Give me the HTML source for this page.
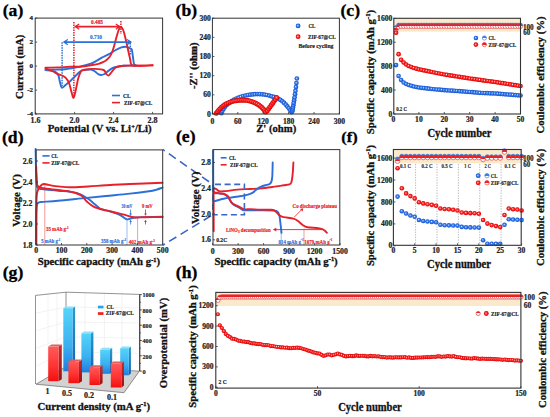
<!DOCTYPE html>
<html><head><meta charset="utf-8"><style>
html,body{margin:0;padding:0;background:#fff;}
svg{display:block;font-family:"Liberation Serif",serif;font-weight:bold;}
</style></head><body>
<svg width="550" height="417" viewBox="0 0 550 417">
<defs>
<radialGradient id="gb" cx="0.5" cy="0.5" r="0.5" fx="0.42" fy="0.42"><stop offset="0" stop-color="#eef4ff"/><stop offset="0.3" stop-color="#5a94f2"/><stop offset="0.7" stop-color="#1e66e0"/><stop offset="1" stop-color="#1552c8"/></radialGradient>
<radialGradient id="gr" cx="0.5" cy="0.5" r="0.5" fx="0.42" fy="0.42"><stop offset="0" stop-color="#fff0f0"/><stop offset="0.3" stop-color="#ff5050"/><stop offset="0.7" stop-color="#f21010"/><stop offset="1" stop-color="#d40000"/></radialGradient>
<linearGradient id="hb" x1="0" y1="0" x2="0" y2="1"><stop offset="0.5" stop-color="#3b7fe8"/><stop offset="0.5" stop-color="#fff"/></linearGradient>
<linearGradient id="hr" x1="0" y1="0" x2="0" y2="1"><stop offset="0.5" stop-color="#f02020"/><stop offset="0.5" stop-color="#fff"/></linearGradient>
<linearGradient id="barb" x1="0" y1="0" x2="0" y2="1"><stop offset="0" stop-color="#55d4fa"/><stop offset="0.6" stop-color="#3ab0f0"/><stop offset="1" stop-color="#1f7ee0"/></linearGradient>
<linearGradient id="barbs" x1="0" y1="0" x2="0" y2="1"><stop offset="0" stop-color="#2a9ad0"/><stop offset="1" stop-color="#1560b0"/></linearGradient>
<linearGradient id="barr" x1="0" y1="0" x2="0" y2="1"><stop offset="0" stop-color="#ff5a5a"/><stop offset="0.6" stop-color="#ff3030"/><stop offset="1" stop-color="#f01010"/></linearGradient>
<linearGradient id="barrs" x1="0" y1="0" x2="0" y2="1"><stop offset="0" stop-color="#c03030"/><stop offset="1" stop-color="#a01010"/></linearGradient>
</defs>

<text x="13.05" y="16.4" textLength="20.57" lengthAdjust="spacingAndGlyphs" font-size="16.8" text-anchor="middle" fill="#000" stroke="#000" stroke-width="0.3">(a)</text>
<text x="186.4" y="15.5" textLength="21.56" lengthAdjust="spacingAndGlyphs" font-size="16.8" text-anchor="middle" fill="#000" stroke="#000" stroke-width="0.3">(b)</text>
<text x="350.25" y="15.5" textLength="19.58" lengthAdjust="spacingAndGlyphs" font-size="16.8" text-anchor="middle" fill="#000" stroke="#000" stroke-width="0.3">(c)</text>
<text x="12.75" y="143.2" textLength="21.56" lengthAdjust="spacingAndGlyphs" font-size="16.8" text-anchor="middle" fill="#000" stroke="#000" stroke-width="0.3">(d)</text>
<text x="185.8" y="141.7" textLength="19.58" lengthAdjust="spacingAndGlyphs" font-size="16.8" text-anchor="middle" fill="#000" stroke="#000" stroke-width="0.3">(e)</text>
<text x="349.5" y="141.6" textLength="16.38" lengthAdjust="spacingAndGlyphs" font-size="15.6" text-anchor="middle" fill="#000" stroke="#000" stroke-width="0.3">(f)</text>
<text x="13.05" y="278.4" textLength="20.57" lengthAdjust="spacingAndGlyphs" font-size="16.8" text-anchor="middle" fill="#000" stroke="#000" stroke-width="0.3">(g)</text>
<text x="186.55" y="278.1" textLength="21.56" lengthAdjust="spacingAndGlyphs" font-size="16.8" text-anchor="middle" fill="#000" stroke="#000" stroke-width="0.3">(h)</text>
<path d="M45.5,70 C47.08,69.93 51.75,69.73 55,69.6 C58.25,69.47 62.17,69.43 65,69.2 C67.83,68.97 69.5,68.63 72,68.2 C74.5,67.77 76.85,67.37 80,66.6 C83.15,65.83 88.17,64.55 90.9,63.6 C93.63,62.65 94.58,61.9 96.4,60.9 C98.22,59.9 99.8,58.68 101.8,57.6 C103.8,56.52 106.22,55.58 108.4,54.4 C110.58,53.22 112.73,51.68 114.9,50.5 C117.07,49.32 119.58,47.93 121.4,47.3 C123.22,46.67 124.62,46.65 125.8,46.7 C126.98,46.75 127.72,47.3 128.5,47.6 C129.28,47.9 129.95,48.18 130.5,48.5 C131.05,48.82 131.4,48.17 131.8,49.5 C132.2,50.83 132.53,54.08 132.9,56.5 C133.27,58.92 133.55,62.53 134,64 C134.45,65.47 135.33,65.08 135.6,65.3" fill="none" stroke="#2b6fd9" stroke-width="1.9" stroke-linejoin="round" stroke-linecap="round"/>
<path d="M135.6,65.3 C133.6,65.38 127.42,65.35 123.6,65.8 C119.78,66.25 115.42,67 112.7,68 C109.98,69 108.67,70.8 107.3,71.8 C105.93,72.8 105.55,73.47 104.5,74 C103.45,74.53 102.05,74.98 101,75 C99.95,75.02 99.2,74.68 98.2,74.1 C97.2,73.52 96.2,72.27 95,71.5 C93.8,70.73 92.67,69.75 91,69.5 C89.33,69.25 86.68,69.75 85,70 C83.32,70.25 82.33,70.17 80.9,71 C79.47,71.83 78.07,73.42 76.4,75 C74.73,76.58 72.72,78.83 70.9,80.5 C69.08,82.17 67.02,83.8 65.5,85 C63.98,86.2 62.72,88.15 61.8,87.7 C60.88,87.25 60.6,84.42 60,82.3 C59.4,80.18 59.12,76.82 58.2,75 C57.28,73.18 56.62,72.23 54.5,71.4 C52.38,70.57 47,70.23 45.5,70" fill="none" stroke="#2b6fd9" stroke-width="1.9" stroke-linejoin="round" stroke-linecap="round"/>
<path d="M45.5,67.7 C47.62,67.65 54.12,67.55 58.2,67.4 C62.28,67.25 66.37,66.92 70,66.8 C73.63,66.68 76.52,66.95 80,66.7 C83.48,66.45 87.82,65.78 90.9,65.3 C93.98,64.82 96.48,64.32 98.5,63.8 C100.52,63.28 101.67,62.83 103,62.2 C104.33,61.57 105.42,60.87 106.5,60 C107.58,59.13 108.58,58.25 109.5,57 C110.42,55.75 111.23,54.33 112,52.5 C112.77,50.67 113.35,48.58 114.1,46 C114.85,43.42 115.77,39.58 116.5,37 C117.23,34.42 117.87,32.13 118.5,30.5 C119.13,28.87 119.72,27.65 120.3,27.2 C120.88,26.75 121.43,27.08 122,27.8 C122.57,28.52 123,29.23 123.7,31.5 C124.4,33.77 125.4,37.98 126.2,41.4 C127,44.82 127.87,49.15 128.5,52 C129.13,54.85 129.6,56.58 130,58.5 C130.4,60.42 130.52,62.35 130.9,63.5 C131.28,64.65 130.78,65.03 132.3,65.4 C133.82,65.77 136.62,65.72 140,65.7 C143.38,65.68 150.5,65.37 152.6,65.3" fill="none" stroke="#e8202a" stroke-width="1.9" stroke-linejoin="round" stroke-linecap="round"/>
<path d="M152.6,65.3 C150.5,65.37 144.83,65.62 140,65.7 C135.17,65.78 127.6,65.52 123.6,65.8 C119.6,66.08 117.82,66.58 116,67.4 C114.18,68.22 113.62,69.68 112.7,70.7 C111.78,71.72 111.23,72.68 110.5,73.5 C109.77,74.32 109.05,75.6 108.3,75.6 C107.55,75.6 106.78,74.43 106,73.5 C105.22,72.57 105.43,70.77 103.6,70 C101.77,69.23 97.6,69.03 95,68.9 C92.4,68.77 89.9,69.02 88,69.2 C86.1,69.38 84.78,69.63 83.6,70 C82.42,70.37 81.8,69.97 80.9,71.4 C80,72.83 79.02,75.67 78.2,78.6 C77.38,81.53 76.77,85.82 76,89 C75.23,92.18 74.35,97.2 73.6,97.7 C72.85,98.2 72.27,94.45 71.5,92 C70.73,89.55 70,85.38 69,83 C68,80.62 66.67,78.95 65.5,77.7 C64.33,76.45 63.25,76.12 62,75.5 C60.75,74.88 59.67,74.75 58,74 C56.33,73.25 54.08,71.97 52,71 C49.92,70.03 46.58,68.67 45.5,68.2" fill="none" stroke="#e8202a" stroke-width="1.9" stroke-linejoin="round" stroke-linecap="round"/>
<line x1="73.9" y1="22.1" x2="73.9" y2="97" stroke="#e8202a" stroke-width="1.5" stroke-dasharray="1.5 1"/>
<line x1="120.9" y1="21" x2="120.9" y2="34" stroke="#e8202a" stroke-width="1.5" stroke-dasharray="1.5 1"/>
<line x1="62.1" y1="42.3" x2="62.1" y2="86" stroke="#2b6fd9" stroke-width="1.5" stroke-dasharray="1.5 1"/>
<line x1="130.3" y1="43" x2="130.3" y2="55" stroke="#2b6fd9" stroke-width="1.5" stroke-dasharray="1.5 1"/>
<line x1="75.7" y1="26.6" x2="119.3" y2="26.6" stroke="#e8202a" stroke-width="1.6"/>
<path d="M115.8,24 L119.8,26.6 L115.8,29.2" fill="none" stroke="#e8202a" stroke-width="1.2"/>
<path d="M119.8,26.6 L117,25.17 L117,28.03 Z" fill="#e8202a"/>
<path d="M79.2,24 L75.2,26.6 L79.2,29.2" fill="none" stroke="#e8202a" stroke-width="1.2"/>
<path d="M75.2,26.6 L78,25.17 L78,28.03 Z" fill="#e8202a"/>
<line x1="64.3" y1="42.1" x2="130.5" y2="42.1" stroke="#2b6fd9" stroke-width="1.6"/>
<path d="M127,39.5 L131,42.1 L127,44.7" fill="none" stroke="#2b6fd9" stroke-width="1.2"/>
<path d="M131,42.1 L128.2,40.67 L128.2,43.53 Z" fill="#2b6fd9"/>
<path d="M67.8,39.5 L63.8,42.1 L67.8,44.7" fill="none" stroke="#2b6fd9" stroke-width="1.2"/>
<path d="M63.8,42.1 L66.6,40.67 L66.6,43.53 Z" fill="#2b6fd9"/>
<text x="97" y="24.4" font-size="5.6" fill="#e8202a" text-anchor="middle" stroke="#e8202a" stroke-width="0.18" textLength="12" lengthAdjust="spacingAndGlyphs">0.485</text>
<text x="96" y="39" font-size="5.6" fill="#2b6fd9" text-anchor="middle" stroke="#2b6fd9" stroke-width="0.18" textLength="12" lengthAdjust="spacingAndGlyphs">0.710</text>
<line x1="112" y1="95.5" x2="120" y2="95.5" stroke="#2b6fd9" stroke-width="1.6"/>
<text x="123" y="97.54" font-size="6" fill="#222" text-anchor="start" stroke="#222" stroke-width="0.18" textLength="7.5" lengthAdjust="spacingAndGlyphs">CL</text>
<line x1="112" y1="102.6" x2="120" y2="102.6" stroke="#e8202a" stroke-width="1.6"/>
<text x="124" y="104.64" font-size="6" fill="#222" text-anchor="start" stroke="#222" stroke-width="0.18" textLength="28.3" lengthAdjust="spacingAndGlyphs">ZIF-67@CL</text>
<rect x="35.2" y="18.1" width="127.4" height="95.8" fill="none" stroke="#333" stroke-width="1"/>
<text x="33" y="20.48" font-size="7" fill="#222" text-anchor="end" stroke="#222" stroke-width="0.22">4</text>
<line x1="35.2" y1="18.1" x2="37.2" y2="18.1" stroke="#333" stroke-width="0.8"/>
<text x="33" y="44.48" font-size="7" fill="#222" text-anchor="end" stroke="#222" stroke-width="0.22">2</text>
<line x1="35.2" y1="42.1" x2="37.2" y2="42.1" stroke="#333" stroke-width="0.8"/>
<text x="33" y="68.48" font-size="7" fill="#222" text-anchor="end" stroke="#222" stroke-width="0.22">0</text>
<line x1="35.2" y1="66.1" x2="37.2" y2="66.1" stroke="#333" stroke-width="0.8"/>
<text x="33" y="92.48" font-size="7" fill="#222" text-anchor="end" stroke="#222" stroke-width="0.22">-2</text>
<line x1="35.2" y1="90.1" x2="37.2" y2="90.1" stroke="#333" stroke-width="0.8"/>
<text x="33" y="116.48" font-size="7" fill="#222" text-anchor="end" stroke="#222" stroke-width="0.22">-4</text>
<line x1="35.2" y1="114.1" x2="37.2" y2="114.1" stroke="#333" stroke-width="0.8"/>
<text x="35.6" y="122.98" font-size="7.6" fill="#222" text-anchor="middle" stroke="#222" stroke-width="0.22" textLength="10" lengthAdjust="spacingAndGlyphs">1.6</text>
<line x1="35.6" y1="113.9" x2="35.6" y2="111.9" stroke="#333" stroke-width="0.8"/>
<text x="74.6" y="122.98" font-size="7.6" fill="#222" text-anchor="middle" stroke="#222" stroke-width="0.22" textLength="10" lengthAdjust="spacingAndGlyphs">2.0</text>
<line x1="74.6" y1="113.9" x2="74.6" y2="111.9" stroke="#333" stroke-width="0.8"/>
<text x="113.6" y="122.98" font-size="7.6" fill="#222" text-anchor="middle" stroke="#222" stroke-width="0.22" textLength="10" lengthAdjust="spacingAndGlyphs">2.4</text>
<line x1="113.6" y1="113.9" x2="113.6" y2="111.9" stroke="#333" stroke-width="0.8"/>
<text x="152.6" y="122.98" font-size="7.6" fill="#222" text-anchor="middle" stroke="#222" stroke-width="0.22" textLength="10" lengthAdjust="spacingAndGlyphs">2.8</text>
<line x1="152.6" y1="113.9" x2="152.6" y2="111.9" stroke="#333" stroke-width="0.8"/>
<text x="22.9" y="66.75" font-size="10.3" fill="#111" text-anchor="middle" stroke="#111" stroke-width="0.3" textLength="64.3" lengthAdjust="spacingAndGlyphs" transform="rotate(-90 22.9 66.75)">Current (mA)</text>
<text x="47.7" y="132.2" font-size="10.8" fill="#111" text-anchor="start" stroke="#111" stroke-width="0.3" textLength="104" lengthAdjust="spacingAndGlyphs">Potential (V vs. Li<tspan dy="-3.5" font-size="6.5">+</tspan><tspan dy="3.5">/Li)</tspan></text>
<circle cx="221.3" cy="113.2" r="2.35" fill="url(#gb)"/>
<circle cx="222.35" cy="111.04" r="2.35" fill="url(#gb)"/>
<circle cx="223.53" cy="108.95" r="2.35" fill="url(#gb)"/>
<circle cx="224.87" cy="106.96" r="2.35" fill="url(#gb)"/>
<circle cx="226.48" cy="105.18" r="2.35" fill="url(#gb)"/>
<circle cx="228.26" cy="103.58" r="2.35" fill="url(#gb)"/>
<circle cx="230.17" cy="102.13" r="2.35" fill="url(#gb)"/>
<circle cx="232.17" cy="100.8" r="2.35" fill="url(#gb)"/>
<circle cx="234.25" cy="99.61" r="2.35" fill="url(#gb)"/>
<circle cx="236.41" cy="98.55" r="2.35" fill="url(#gb)"/>
<circle cx="238.63" cy="97.65" r="2.35" fill="url(#gb)"/>
<circle cx="240.89" cy="96.84" r="2.35" fill="url(#gb)"/>
<circle cx="243.16" cy="96.06" r="2.35" fill="url(#gb)"/>
<circle cx="245.49" cy="95.5" r="2.35" fill="url(#gb)"/>
<circle cx="247.85" cy="95.07" r="2.35" fill="url(#gb)"/>
<circle cx="250.23" cy="94.72" r="2.35" fill="url(#gb)"/>
<circle cx="252.61" cy="94.44" r="2.35" fill="url(#gb)"/>
<circle cx="255" cy="94.22" r="2.35" fill="url(#gb)"/>
<circle cx="257.4" cy="94.1" r="2.35" fill="url(#gb)"/>
<circle cx="259.8" cy="94.13" r="2.35" fill="url(#gb)"/>
<circle cx="262.19" cy="94.29" r="2.35" fill="url(#gb)"/>
<circle cx="264.57" cy="94.57" r="2.35" fill="url(#gb)"/>
<circle cx="266.94" cy="94.99" r="2.35" fill="url(#gb)"/>
<circle cx="269.26" cy="95.6" r="2.35" fill="url(#gb)"/>
<circle cx="271.55" cy="96.31" r="2.35" fill="url(#gb)"/>
<circle cx="273.86" cy="96.97" r="2.35" fill="url(#gb)"/>
<circle cx="276.13" cy="97.73" r="2.35" fill="url(#gb)"/>
<circle cx="278.3" cy="98.75" r="2.35" fill="url(#gb)"/>
<circle cx="280.38" cy="99.95" r="2.35" fill="url(#gb)"/>
<circle cx="282.36" cy="101.31" r="2.35" fill="url(#gb)"/>
<circle cx="284.16" cy="102.89" r="2.35" fill="url(#gb)"/>
<circle cx="285.81" cy="104.64" r="2.35" fill="url(#gb)"/>
<circle cx="287.38" cy="106.45" r="2.35" fill="url(#gb)"/>
<circle cx="288.83" cy="108.36" r="2.35" fill="url(#gb)"/>
<circle cx="290.23" cy="110.31" r="2.35" fill="url(#gb)"/>
<circle cx="291.62" cy="112.27" r="2.35" fill="url(#gb)"/>
<circle cx="292.3" cy="111.2" r="2.35" fill="url(#gb)"/>
<circle cx="292.63" cy="109.4" r="2.35" fill="url(#gb)"/>
<circle cx="292.99" cy="107.4" r="2.35" fill="url(#gb)"/>
<circle cx="293.36" cy="105.2" r="2.35" fill="url(#gb)"/>
<circle cx="293.76" cy="102.8" r="2.35" fill="url(#gb)"/>
<circle cx="294.17" cy="100.2" r="2.35" fill="url(#gb)"/>
<circle cx="294.61" cy="97.3" r="2.35" fill="url(#gb)"/>
<circle cx="295.05" cy="94.2" r="2.35" fill="url(#gb)"/>
<circle cx="295.5" cy="90.8" r="2.35" fill="url(#gb)"/>
<circle cx="295.97" cy="87" r="2.35" fill="url(#gb)"/>
<circle cx="296.42" cy="83" r="2.35" fill="url(#gb)"/>
<circle cx="296.87" cy="78.5" r="2.35" fill="url(#gb)"/>
<circle cx="216.2" cy="113.3" r="2.5" fill="url(#gr)"/>
<circle cx="217.49" cy="111.77" r="2.5" fill="url(#gr)"/>
<circle cx="218.71" cy="110.19" r="2.5" fill="url(#gr)"/>
<circle cx="220.04" cy="108.69" r="2.5" fill="url(#gr)"/>
<circle cx="221.45" cy="107.28" r="2.5" fill="url(#gr)"/>
<circle cx="222.99" cy="106" r="2.5" fill="url(#gr)"/>
<circle cx="224.62" cy="104.84" r="2.5" fill="url(#gr)"/>
<circle cx="226.35" cy="103.83" r="2.5" fill="url(#gr)"/>
<circle cx="228.14" cy="102.96" r="2.5" fill="url(#gr)"/>
<circle cx="229.99" cy="102.2" r="2.5" fill="url(#gr)"/>
<circle cx="231.89" cy="101.57" r="2.5" fill="url(#gr)"/>
<circle cx="233.82" cy="101.05" r="2.5" fill="url(#gr)"/>
<circle cx="235.79" cy="100.67" r="2.5" fill="url(#gr)"/>
<circle cx="237.77" cy="100.44" r="2.5" fill="url(#gr)"/>
<circle cx="239.77" cy="100.31" r="2.5" fill="url(#gr)"/>
<circle cx="241.77" cy="100.24" r="2.5" fill="url(#gr)"/>
<circle cx="243.77" cy="100.24" r="2.5" fill="url(#gr)"/>
<circle cx="245.76" cy="100.36" r="2.5" fill="url(#gr)"/>
<circle cx="247.75" cy="100.57" r="2.5" fill="url(#gr)"/>
<circle cx="249.72" cy="100.93" r="2.5" fill="url(#gr)"/>
<circle cx="251.64" cy="101.47" r="2.5" fill="url(#gr)"/>
<circle cx="253.52" cy="102.15" r="2.5" fill="url(#gr)"/>
<circle cx="255.35" cy="102.97" r="2.5" fill="url(#gr)"/>
<circle cx="257.11" cy="103.91" r="2.5" fill="url(#gr)"/>
<circle cx="258.81" cy="104.96" r="2.5" fill="url(#gr)"/>
<circle cx="260.43" cy="106.14" r="2.5" fill="url(#gr)"/>
<circle cx="261.91" cy="107.48" r="2.5" fill="url(#gr)"/>
<circle cx="263.29" cy="108.93" r="2.5" fill="url(#gr)"/>
<circle cx="264.57" cy="110.46" r="2.5" fill="url(#gr)"/>
<circle cx="265.68" cy="112.12" r="2.5" fill="url(#gr)"/>
<circle cx="267.33" cy="110.72" r="2.5" fill="url(#gr)"/>
<circle cx="268.65" cy="108.84" r="2.5" fill="url(#gr)"/>
<circle cx="269.98" cy="106.96" r="2.5" fill="url(#gr)"/>
<circle cx="271.3" cy="105.08" r="2.5" fill="url(#gr)"/>
<circle cx="272.63" cy="103.2" r="2.5" fill="url(#gr)"/>
<circle cx="273.95" cy="101.32" r="2.5" fill="url(#gr)"/>
<circle cx="275.28" cy="99.44" r="2.5" fill="url(#gr)"/>
<circle cx="276.6" cy="97.56" r="2.5" fill="url(#gr)"/>
<rect x="212.4" y="18.2" width="127" height="95.8" fill="none" stroke="#333" stroke-width="1"/>
<circle cx="298.1" cy="25.9" r="2.4" fill="url(#gb)"/>
<text x="308.4" y="27.94" font-size="6" fill="#222" text-anchor="start" stroke="#222" stroke-width="0.18" textLength="7.1" lengthAdjust="spacingAndGlyphs">CL</text>
<circle cx="298.1" cy="36.7" r="2.4" fill="url(#gr)"/>
<text x="307.9" y="38.54" font-size="6" fill="#222" text-anchor="start" stroke="#222" stroke-width="0.18" textLength="27.8" lengthAdjust="spacingAndGlyphs">ZIF-67@CL</text>
<text x="316" y="48.01" font-size="6.2" fill="#222" text-anchor="middle" stroke="#222" stroke-width="0.18" textLength="35" lengthAdjust="spacingAndGlyphs">Before cycling</text>
<text x="210.8" y="20.78" font-size="7.6" fill="#222" text-anchor="end" stroke="#222" stroke-width="0.22">300</text>
<line x1="212.4" y1="18.2" x2="214.4" y2="18.2" stroke="#333" stroke-width="0.8"/>
<text x="210.8" y="39.94" font-size="7.6" fill="#222" text-anchor="end" stroke="#222" stroke-width="0.22">240</text>
<line x1="212.4" y1="37.36" x2="214.4" y2="37.36" stroke="#333" stroke-width="0.8"/>
<text x="210.8" y="59.1" font-size="7.6" fill="#222" text-anchor="end" stroke="#222" stroke-width="0.22">180</text>
<line x1="212.4" y1="56.52" x2="214.4" y2="56.52" stroke="#333" stroke-width="0.8"/>
<text x="210.8" y="78.26" font-size="7.6" fill="#222" text-anchor="end" stroke="#222" stroke-width="0.22">120</text>
<line x1="212.4" y1="75.68" x2="214.4" y2="75.68" stroke="#333" stroke-width="0.8"/>
<text x="210.8" y="97.42" font-size="7.6" fill="#222" text-anchor="end" stroke="#222" stroke-width="0.22">60</text>
<line x1="212.4" y1="94.84" x2="214.4" y2="94.84" stroke="#333" stroke-width="0.8"/>
<text x="210.8" y="116.58" font-size="7.6" fill="#222" text-anchor="end" stroke="#222" stroke-width="0.22">0</text>
<line x1="212.4" y1="114" x2="214.4" y2="114" stroke="#333" stroke-width="0.8"/>
<text x="212.4" y="123.58" font-size="7.6" fill="#222" text-anchor="middle" stroke="#222" stroke-width="0.22">0</text>
<line x1="212.4" y1="114" x2="212.4" y2="112" stroke="#333" stroke-width="0.8"/>
<text x="237.8" y="123.58" font-size="7.6" fill="#222" text-anchor="middle" stroke="#222" stroke-width="0.22">60</text>
<line x1="237.8" y1="114" x2="237.8" y2="112" stroke="#333" stroke-width="0.8"/>
<text x="263.2" y="123.58" font-size="7.6" fill="#222" text-anchor="middle" stroke="#222" stroke-width="0.22">120</text>
<line x1="263.2" y1="114" x2="263.2" y2="112" stroke="#333" stroke-width="0.8"/>
<text x="288.6" y="123.58" font-size="7.6" fill="#222" text-anchor="middle" stroke="#222" stroke-width="0.22">180</text>
<line x1="288.6" y1="114" x2="288.6" y2="112" stroke="#333" stroke-width="0.8"/>
<text x="314" y="123.58" font-size="7.6" fill="#222" text-anchor="middle" stroke="#222" stroke-width="0.22">240</text>
<line x1="314" y1="114" x2="314" y2="112" stroke="#333" stroke-width="0.8"/>
<text x="339.4" y="123.58" font-size="7.6" fill="#222" text-anchor="middle" stroke="#222" stroke-width="0.22">300</text>
<line x1="339.4" y1="114" x2="339.4" y2="112" stroke="#333" stroke-width="0.8"/>
<text x="197" y="65.8" font-size="10" fill="#111" text-anchor="middle" stroke="#111" stroke-width="0.3" textLength="46.6" lengthAdjust="spacingAndGlyphs" transform="rotate(-90 197 65.8)">-Z'' (ohm)</text>
<text x="256.2" y="131.8" font-size="10.4" fill="#111" text-anchor="start" stroke="#111" stroke-width="0.3" textLength="40" lengthAdjust="spacingAndGlyphs">Z' (ohm)</text>
<rect x="393.8" y="18.3" width="126.7" height="13.4" fill="#faeacb"/>
<circle cx="396.04" cy="27.4" r="2" fill="url(#hb)" stroke="#2b6fd9" stroke-width="0.6"/>
<circle cx="398.58" cy="25.1" r="2" fill="url(#hb)" stroke="#2b6fd9" stroke-width="0.6"/>
<circle cx="401.12" cy="25.1" r="2" fill="url(#hb)" stroke="#2b6fd9" stroke-width="0.6"/>
<circle cx="403.66" cy="25.1" r="2" fill="url(#hb)" stroke="#2b6fd9" stroke-width="0.6"/>
<circle cx="406.2" cy="25.1" r="2" fill="url(#hb)" stroke="#2b6fd9" stroke-width="0.6"/>
<circle cx="408.74" cy="25.1" r="2" fill="url(#hb)" stroke="#2b6fd9" stroke-width="0.6"/>
<circle cx="411.28" cy="25.1" r="2" fill="url(#hb)" stroke="#2b6fd9" stroke-width="0.6"/>
<circle cx="413.82" cy="25.1" r="2" fill="url(#hb)" stroke="#2b6fd9" stroke-width="0.6"/>
<circle cx="416.36" cy="25.1" r="2" fill="url(#hb)" stroke="#2b6fd9" stroke-width="0.6"/>
<circle cx="418.9" cy="25.1" r="2" fill="url(#hb)" stroke="#2b6fd9" stroke-width="0.6"/>
<circle cx="421.44" cy="25.1" r="2" fill="url(#hb)" stroke="#2b6fd9" stroke-width="0.6"/>
<circle cx="423.98" cy="25.1" r="2" fill="url(#hb)" stroke="#2b6fd9" stroke-width="0.6"/>
<circle cx="426.52" cy="25.1" r="2" fill="url(#hb)" stroke="#2b6fd9" stroke-width="0.6"/>
<circle cx="429.06" cy="25.1" r="2" fill="url(#hb)" stroke="#2b6fd9" stroke-width="0.6"/>
<circle cx="431.6" cy="25.1" r="2" fill="url(#hb)" stroke="#2b6fd9" stroke-width="0.6"/>
<circle cx="434.14" cy="25.1" r="2" fill="url(#hb)" stroke="#2b6fd9" stroke-width="0.6"/>
<circle cx="436.68" cy="25.1" r="2" fill="url(#hb)" stroke="#2b6fd9" stroke-width="0.6"/>
<circle cx="439.22" cy="25.1" r="2" fill="url(#hb)" stroke="#2b6fd9" stroke-width="0.6"/>
<circle cx="441.76" cy="25.1" r="2" fill="url(#hb)" stroke="#2b6fd9" stroke-width="0.6"/>
<circle cx="444.3" cy="25.1" r="2" fill="url(#hb)" stroke="#2b6fd9" stroke-width="0.6"/>
<circle cx="446.84" cy="25.1" r="2" fill="url(#hb)" stroke="#2b6fd9" stroke-width="0.6"/>
<circle cx="449.38" cy="25.1" r="2" fill="url(#hb)" stroke="#2b6fd9" stroke-width="0.6"/>
<circle cx="451.92" cy="25.1" r="2" fill="url(#hb)" stroke="#2b6fd9" stroke-width="0.6"/>
<circle cx="454.46" cy="25.1" r="2" fill="url(#hb)" stroke="#2b6fd9" stroke-width="0.6"/>
<circle cx="457" cy="25.1" r="2" fill="url(#hb)" stroke="#2b6fd9" stroke-width="0.6"/>
<circle cx="459.54" cy="25.1" r="2" fill="url(#hb)" stroke="#2b6fd9" stroke-width="0.6"/>
<circle cx="462.08" cy="25.1" r="2" fill="url(#hb)" stroke="#2b6fd9" stroke-width="0.6"/>
<circle cx="464.62" cy="25.1" r="2" fill="url(#hb)" stroke="#2b6fd9" stroke-width="0.6"/>
<circle cx="467.16" cy="25.1" r="2" fill="url(#hb)" stroke="#2b6fd9" stroke-width="0.6"/>
<circle cx="469.7" cy="25.1" r="2" fill="url(#hb)" stroke="#2b6fd9" stroke-width="0.6"/>
<circle cx="472.24" cy="25.1" r="2" fill="url(#hb)" stroke="#2b6fd9" stroke-width="0.6"/>
<circle cx="474.78" cy="25.1" r="2" fill="url(#hb)" stroke="#2b6fd9" stroke-width="0.6"/>
<circle cx="477.32" cy="25.1" r="2" fill="url(#hb)" stroke="#2b6fd9" stroke-width="0.6"/>
<circle cx="479.86" cy="25.1" r="2" fill="url(#hb)" stroke="#2b6fd9" stroke-width="0.6"/>
<circle cx="482.4" cy="25.1" r="2" fill="url(#hb)" stroke="#2b6fd9" stroke-width="0.6"/>
<circle cx="484.94" cy="25.1" r="2" fill="url(#hb)" stroke="#2b6fd9" stroke-width="0.6"/>
<circle cx="487.48" cy="25.1" r="2" fill="url(#hb)" stroke="#2b6fd9" stroke-width="0.6"/>
<circle cx="490.02" cy="25.1" r="2" fill="url(#hb)" stroke="#2b6fd9" stroke-width="0.6"/>
<circle cx="492.56" cy="25.1" r="2" fill="url(#hb)" stroke="#2b6fd9" stroke-width="0.6"/>
<circle cx="495.1" cy="25.1" r="2" fill="url(#hb)" stroke="#2b6fd9" stroke-width="0.6"/>
<circle cx="497.64" cy="25.1" r="2" fill="url(#hb)" stroke="#2b6fd9" stroke-width="0.6"/>
<circle cx="500.18" cy="25.1" r="2" fill="url(#hb)" stroke="#2b6fd9" stroke-width="0.6"/>
<circle cx="502.72" cy="25.1" r="2" fill="url(#hb)" stroke="#2b6fd9" stroke-width="0.6"/>
<circle cx="505.26" cy="25.1" r="2" fill="url(#hb)" stroke="#2b6fd9" stroke-width="0.6"/>
<circle cx="507.8" cy="25.1" r="2" fill="url(#hb)" stroke="#2b6fd9" stroke-width="0.6"/>
<circle cx="510.34" cy="25.1" r="2" fill="url(#hb)" stroke="#2b6fd9" stroke-width="0.6"/>
<circle cx="512.88" cy="25.1" r="2" fill="url(#hb)" stroke="#2b6fd9" stroke-width="0.6"/>
<circle cx="515.42" cy="25.1" r="2" fill="url(#hb)" stroke="#2b6fd9" stroke-width="0.6"/>
<circle cx="517.96" cy="25.1" r="2" fill="url(#hb)" stroke="#2b6fd9" stroke-width="0.6"/>
<circle cx="520.5" cy="25.1" r="2" fill="url(#hb)" stroke="#2b6fd9" stroke-width="0.6"/>
<circle cx="396.04" cy="29.8" r="2.1" fill="url(#hr)" stroke="#e8202a" stroke-width="0.6"/>
<circle cx="398.58" cy="26.9" r="2.1" fill="url(#hr)" stroke="#e8202a" stroke-width="0.6"/>
<circle cx="401.12" cy="26.4" r="2.1" fill="url(#hr)" stroke="#e8202a" stroke-width="0.6"/>
<circle cx="403.66" cy="26.4" r="2.1" fill="url(#hr)" stroke="#e8202a" stroke-width="0.6"/>
<circle cx="406.2" cy="26.4" r="2.1" fill="url(#hr)" stroke="#e8202a" stroke-width="0.6"/>
<circle cx="408.74" cy="26.4" r="2.1" fill="url(#hr)" stroke="#e8202a" stroke-width="0.6"/>
<circle cx="411.28" cy="26.4" r="2.1" fill="url(#hr)" stroke="#e8202a" stroke-width="0.6"/>
<circle cx="413.82" cy="26.4" r="2.1" fill="url(#hr)" stroke="#e8202a" stroke-width="0.6"/>
<circle cx="416.36" cy="26.4" r="2.1" fill="url(#hr)" stroke="#e8202a" stroke-width="0.6"/>
<circle cx="418.9" cy="26.4" r="2.1" fill="url(#hr)" stroke="#e8202a" stroke-width="0.6"/>
<circle cx="421.44" cy="26.4" r="2.1" fill="url(#hr)" stroke="#e8202a" stroke-width="0.6"/>
<circle cx="423.98" cy="26.4" r="2.1" fill="url(#hr)" stroke="#e8202a" stroke-width="0.6"/>
<circle cx="426.52" cy="26.4" r="2.1" fill="url(#hr)" stroke="#e8202a" stroke-width="0.6"/>
<circle cx="429.06" cy="26.4" r="2.1" fill="url(#hr)" stroke="#e8202a" stroke-width="0.6"/>
<circle cx="431.6" cy="26.4" r="2.1" fill="url(#hr)" stroke="#e8202a" stroke-width="0.6"/>
<circle cx="434.14" cy="26.4" r="2.1" fill="url(#hr)" stroke="#e8202a" stroke-width="0.6"/>
<circle cx="436.68" cy="26.4" r="2.1" fill="url(#hr)" stroke="#e8202a" stroke-width="0.6"/>
<circle cx="439.22" cy="26.4" r="2.1" fill="url(#hr)" stroke="#e8202a" stroke-width="0.6"/>
<circle cx="441.76" cy="26.4" r="2.1" fill="url(#hr)" stroke="#e8202a" stroke-width="0.6"/>
<circle cx="444.3" cy="26.4" r="2.1" fill="url(#hr)" stroke="#e8202a" stroke-width="0.6"/>
<circle cx="446.84" cy="26.4" r="2.1" fill="url(#hr)" stroke="#e8202a" stroke-width="0.6"/>
<circle cx="449.38" cy="26.4" r="2.1" fill="url(#hr)" stroke="#e8202a" stroke-width="0.6"/>
<circle cx="451.92" cy="26.4" r="2.1" fill="url(#hr)" stroke="#e8202a" stroke-width="0.6"/>
<circle cx="454.46" cy="26.4" r="2.1" fill="url(#hr)" stroke="#e8202a" stroke-width="0.6"/>
<circle cx="457" cy="26.4" r="2.1" fill="url(#hr)" stroke="#e8202a" stroke-width="0.6"/>
<circle cx="459.54" cy="26.4" r="2.1" fill="url(#hr)" stroke="#e8202a" stroke-width="0.6"/>
<circle cx="462.08" cy="26.4" r="2.1" fill="url(#hr)" stroke="#e8202a" stroke-width="0.6"/>
<circle cx="464.62" cy="26.4" r="2.1" fill="url(#hr)" stroke="#e8202a" stroke-width="0.6"/>
<circle cx="467.16" cy="26.4" r="2.1" fill="url(#hr)" stroke="#e8202a" stroke-width="0.6"/>
<circle cx="469.7" cy="26.4" r="2.1" fill="url(#hr)" stroke="#e8202a" stroke-width="0.6"/>
<circle cx="472.24" cy="26.4" r="2.1" fill="url(#hr)" stroke="#e8202a" stroke-width="0.6"/>
<circle cx="474.78" cy="26.4" r="2.1" fill="url(#hr)" stroke="#e8202a" stroke-width="0.6"/>
<circle cx="477.32" cy="26.4" r="2.1" fill="url(#hr)" stroke="#e8202a" stroke-width="0.6"/>
<circle cx="479.86" cy="26.4" r="2.1" fill="url(#hr)" stroke="#e8202a" stroke-width="0.6"/>
<circle cx="482.4" cy="26.4" r="2.1" fill="url(#hr)" stroke="#e8202a" stroke-width="0.6"/>
<circle cx="484.94" cy="26.4" r="2.1" fill="url(#hr)" stroke="#e8202a" stroke-width="0.6"/>
<circle cx="487.48" cy="26.4" r="2.1" fill="url(#hr)" stroke="#e8202a" stroke-width="0.6"/>
<circle cx="490.02" cy="26.4" r="2.1" fill="url(#hr)" stroke="#e8202a" stroke-width="0.6"/>
<circle cx="492.56" cy="26.4" r="2.1" fill="url(#hr)" stroke="#e8202a" stroke-width="0.6"/>
<circle cx="495.1" cy="26.4" r="2.1" fill="url(#hr)" stroke="#e8202a" stroke-width="0.6"/>
<circle cx="497.64" cy="26.4" r="2.1" fill="url(#hr)" stroke="#e8202a" stroke-width="0.6"/>
<circle cx="500.18" cy="26.4" r="2.1" fill="url(#hr)" stroke="#e8202a" stroke-width="0.6"/>
<circle cx="502.72" cy="26.4" r="2.1" fill="url(#hr)" stroke="#e8202a" stroke-width="0.6"/>
<circle cx="505.26" cy="26.4" r="2.1" fill="url(#hr)" stroke="#e8202a" stroke-width="0.6"/>
<circle cx="507.8" cy="26.4" r="2.1" fill="url(#hr)" stroke="#e8202a" stroke-width="0.6"/>
<circle cx="510.34" cy="26.4" r="2.1" fill="url(#hr)" stroke="#e8202a" stroke-width="0.6"/>
<circle cx="512.88" cy="26.4" r="2.1" fill="url(#hr)" stroke="#e8202a" stroke-width="0.6"/>
<circle cx="515.42" cy="26.4" r="2.1" fill="url(#hr)" stroke="#e8202a" stroke-width="0.6"/>
<circle cx="517.96" cy="26.4" r="2.1" fill="url(#hr)" stroke="#e8202a" stroke-width="0.6"/>
<circle cx="520.5" cy="26.4" r="2.1" fill="url(#hr)" stroke="#e8202a" stroke-width="0.6"/>
<circle cx="396.04" cy="65.1" r="2.35" fill="url(#gb)"/>
<circle cx="398.58" cy="76" r="2.35" fill="url(#gb)"/>
<circle cx="401.12" cy="80" r="2.35" fill="url(#gb)"/>
<circle cx="403.66" cy="82.5" r="2.35" fill="url(#gb)"/>
<circle cx="406.2" cy="84" r="2.35" fill="url(#gb)"/>
<circle cx="408.74" cy="85" r="2.35" fill="url(#gb)"/>
<circle cx="411.28" cy="85.75" r="2.35" fill="url(#gb)"/>
<circle cx="413.82" cy="86.5" r="2.35" fill="url(#gb)"/>
<circle cx="416.36" cy="87" r="2.35" fill="url(#gb)"/>
<circle cx="418.9" cy="87.5" r="2.35" fill="url(#gb)"/>
<circle cx="421.44" cy="87.8" r="2.35" fill="url(#gb)"/>
<circle cx="423.98" cy="88.1" r="2.35" fill="url(#gb)"/>
<circle cx="426.52" cy="88.4" r="2.35" fill="url(#gb)"/>
<circle cx="429.06" cy="88.7" r="2.35" fill="url(#gb)"/>
<circle cx="431.6" cy="89" r="2.35" fill="url(#gb)"/>
<circle cx="434.14" cy="89.24" r="2.35" fill="url(#gb)"/>
<circle cx="436.68" cy="89.48" r="2.35" fill="url(#gb)"/>
<circle cx="439.22" cy="89.72" r="2.35" fill="url(#gb)"/>
<circle cx="441.76" cy="89.96" r="2.35" fill="url(#gb)"/>
<circle cx="444.3" cy="90.2" r="2.35" fill="url(#gb)"/>
<circle cx="446.84" cy="90.36" r="2.35" fill="url(#gb)"/>
<circle cx="449.38" cy="90.52" r="2.35" fill="url(#gb)"/>
<circle cx="451.92" cy="90.68" r="2.35" fill="url(#gb)"/>
<circle cx="454.46" cy="90.84" r="2.35" fill="url(#gb)"/>
<circle cx="457" cy="91" r="2.35" fill="url(#gb)"/>
<circle cx="459.54" cy="91.2" r="2.35" fill="url(#gb)"/>
<circle cx="462.08" cy="91.4" r="2.35" fill="url(#gb)"/>
<circle cx="464.62" cy="91.6" r="2.35" fill="url(#gb)"/>
<circle cx="467.16" cy="91.8" r="2.35" fill="url(#gb)"/>
<circle cx="469.7" cy="92" r="2.35" fill="url(#gb)"/>
<circle cx="472.24" cy="92.2" r="2.35" fill="url(#gb)"/>
<circle cx="474.78" cy="92.4" r="2.35" fill="url(#gb)"/>
<circle cx="477.32" cy="92.6" r="2.35" fill="url(#gb)"/>
<circle cx="479.86" cy="92.8" r="2.35" fill="url(#gb)"/>
<circle cx="482.4" cy="93" r="2.35" fill="url(#gb)"/>
<circle cx="484.94" cy="93.1" r="2.35" fill="url(#gb)"/>
<circle cx="487.48" cy="93.2" r="2.35" fill="url(#gb)"/>
<circle cx="490.02" cy="93.3" r="2.35" fill="url(#gb)"/>
<circle cx="492.56" cy="93.4" r="2.35" fill="url(#gb)"/>
<circle cx="495.1" cy="93.5" r="2.35" fill="url(#gb)"/>
<circle cx="497.64" cy="93.7" r="2.35" fill="url(#gb)"/>
<circle cx="500.18" cy="93.9" r="2.35" fill="url(#gb)"/>
<circle cx="502.72" cy="94.1" r="2.35" fill="url(#gb)"/>
<circle cx="505.26" cy="94.3" r="2.35" fill="url(#gb)"/>
<circle cx="507.8" cy="94.5" r="2.35" fill="url(#gb)"/>
<circle cx="510.34" cy="94.7" r="2.35" fill="url(#gb)"/>
<circle cx="512.88" cy="94.9" r="2.35" fill="url(#gb)"/>
<circle cx="515.42" cy="95.1" r="2.35" fill="url(#gb)"/>
<circle cx="517.96" cy="95.3" r="2.35" fill="url(#gb)"/>
<circle cx="520.5" cy="95.5" r="2.35" fill="url(#gb)"/>
<circle cx="396.04" cy="32.7" r="2.35" fill="url(#gr)"/>
<circle cx="398.58" cy="54.2" r="2.35" fill="url(#gr)"/>
<circle cx="401.12" cy="59.8" r="2.35" fill="url(#gr)"/>
<circle cx="403.66" cy="62.5" r="2.35" fill="url(#gr)"/>
<circle cx="406.2" cy="64.5" r="2.35" fill="url(#gr)"/>
<circle cx="408.74" cy="66" r="2.35" fill="url(#gr)"/>
<circle cx="411.28" cy="67" r="2.35" fill="url(#gr)"/>
<circle cx="413.82" cy="68" r="2.35" fill="url(#gr)"/>
<circle cx="416.36" cy="68.65" r="2.35" fill="url(#gr)"/>
<circle cx="418.9" cy="69.3" r="2.35" fill="url(#gr)"/>
<circle cx="421.44" cy="69.84" r="2.35" fill="url(#gr)"/>
<circle cx="423.98" cy="70.38" r="2.35" fill="url(#gr)"/>
<circle cx="426.52" cy="70.92" r="2.35" fill="url(#gr)"/>
<circle cx="429.06" cy="71.46" r="2.35" fill="url(#gr)"/>
<circle cx="431.6" cy="72" r="2.35" fill="url(#gr)"/>
<circle cx="434.14" cy="72.5" r="2.35" fill="url(#gr)"/>
<circle cx="436.68" cy="73" r="2.35" fill="url(#gr)"/>
<circle cx="439.22" cy="73.5" r="2.35" fill="url(#gr)"/>
<circle cx="441.76" cy="74" r="2.35" fill="url(#gr)"/>
<circle cx="444.3" cy="74.5" r="2.35" fill="url(#gr)"/>
<circle cx="446.84" cy="74.9" r="2.35" fill="url(#gr)"/>
<circle cx="449.38" cy="75.3" r="2.35" fill="url(#gr)"/>
<circle cx="451.92" cy="75.7" r="2.35" fill="url(#gr)"/>
<circle cx="454.46" cy="76.1" r="2.35" fill="url(#gr)"/>
<circle cx="457" cy="76.5" r="2.35" fill="url(#gr)"/>
<circle cx="459.54" cy="76.9" r="2.35" fill="url(#gr)"/>
<circle cx="462.08" cy="77.3" r="2.35" fill="url(#gr)"/>
<circle cx="464.62" cy="77.7" r="2.35" fill="url(#gr)"/>
<circle cx="467.16" cy="78.1" r="2.35" fill="url(#gr)"/>
<circle cx="469.7" cy="78.5" r="2.35" fill="url(#gr)"/>
<circle cx="472.24" cy="78.86" r="2.35" fill="url(#gr)"/>
<circle cx="474.78" cy="79.22" r="2.35" fill="url(#gr)"/>
<circle cx="477.32" cy="79.58" r="2.35" fill="url(#gr)"/>
<circle cx="479.86" cy="79.94" r="2.35" fill="url(#gr)"/>
<circle cx="482.4" cy="80.3" r="2.35" fill="url(#gr)"/>
<circle cx="484.94" cy="80.64" r="2.35" fill="url(#gr)"/>
<circle cx="487.48" cy="80.98" r="2.35" fill="url(#gr)"/>
<circle cx="490.02" cy="81.32" r="2.35" fill="url(#gr)"/>
<circle cx="492.56" cy="81.66" r="2.35" fill="url(#gr)"/>
<circle cx="495.1" cy="82" r="2.35" fill="url(#gr)"/>
<circle cx="497.64" cy="82.4" r="2.35" fill="url(#gr)"/>
<circle cx="500.18" cy="82.8" r="2.35" fill="url(#gr)"/>
<circle cx="502.72" cy="83.2" r="2.35" fill="url(#gr)"/>
<circle cx="505.26" cy="83.6" r="2.35" fill="url(#gr)"/>
<circle cx="507.8" cy="84" r="2.35" fill="url(#gr)"/>
<circle cx="510.34" cy="84.4" r="2.35" fill="url(#gr)"/>
<circle cx="512.88" cy="84.8" r="2.35" fill="url(#gr)"/>
<circle cx="515.42" cy="85.2" r="2.35" fill="url(#gr)"/>
<circle cx="517.96" cy="85.6" r="2.35" fill="url(#gr)"/>
<circle cx="520.5" cy="86" r="2.35" fill="url(#gr)"/>
<rect x="393.8" y="18.3" width="126.7" height="95.7" fill="none" stroke="#333" stroke-width="1.1"/>
<circle cx="475.9" cy="38" r="2.3" fill="url(#gb)"/>
<circle cx="484.4" cy="38" r="2.1" fill="url(#hb)" stroke="#2b6fd9" stroke-width="0.6"/>
<text x="488.4" y="40.2" font-size="6.3" fill="#222" text-anchor="start" stroke="#222" stroke-width="0.18" textLength="7.1" lengthAdjust="spacingAndGlyphs">CL</text>
<circle cx="475.9" cy="44.6" r="2.3" fill="url(#gr)"/>
<circle cx="484.4" cy="44.6" r="2.1" fill="url(#hr)" stroke="#e8202a" stroke-width="0.6"/>
<text x="488.4" y="46.8" font-size="6.3" fill="#222" text-anchor="start" stroke="#222" stroke-width="0.18" textLength="27.9" lengthAdjust="spacingAndGlyphs">ZIF-67@CL</text>
<text x="396.2" y="110.6" font-size="5.8" fill="#222" text-anchor="start" stroke="#222" stroke-width="0.18" textLength="10.8" lengthAdjust="spacingAndGlyphs">0.2 C</text>
<text x="392.3" y="20.88" font-size="7.6" fill="#222" text-anchor="end" stroke="#222" stroke-width="0.22">1600</text>
<line x1="393.8" y1="18.3" x2="395.8" y2="18.3" stroke="#333" stroke-width="0.8"/>
<text x="392.3" y="44.81" font-size="7.6" fill="#222" text-anchor="end" stroke="#222" stroke-width="0.22">1200</text>
<line x1="393.8" y1="42.23" x2="395.8" y2="42.23" stroke="#333" stroke-width="0.8"/>
<text x="392.3" y="68.74" font-size="7.6" fill="#222" text-anchor="end" stroke="#222" stroke-width="0.22">800</text>
<line x1="393.8" y1="66.16" x2="395.8" y2="66.16" stroke="#333" stroke-width="0.8"/>
<text x="392.3" y="92.67" font-size="7.6" fill="#222" text-anchor="end" stroke="#222" stroke-width="0.22">400</text>
<line x1="393.8" y1="90.09" x2="395.8" y2="90.09" stroke="#333" stroke-width="0.8"/>
<text x="392.3" y="116.6" font-size="7.6" fill="#222" text-anchor="end" stroke="#222" stroke-width="0.22">0</text>
<line x1="393.8" y1="114.02" x2="395.8" y2="114.02" stroke="#333" stroke-width="0.8"/>
<text x="393.5" y="121.98" font-size="7.6" fill="#222" text-anchor="middle" stroke="#222" stroke-width="0.22">0</text>
<line x1="393.5" y1="114" x2="393.5" y2="112" stroke="#333" stroke-width="0.8"/>
<text x="418.9" y="121.98" font-size="7.6" fill="#222" text-anchor="middle" stroke="#222" stroke-width="0.22">10</text>
<line x1="418.9" y1="114" x2="418.9" y2="112" stroke="#333" stroke-width="0.8"/>
<text x="444.3" y="121.98" font-size="7.6" fill="#222" text-anchor="middle" stroke="#222" stroke-width="0.22">20</text>
<line x1="444.3" y1="114" x2="444.3" y2="112" stroke="#333" stroke-width="0.8"/>
<text x="469.7" y="121.98" font-size="7.6" fill="#222" text-anchor="middle" stroke="#222" stroke-width="0.22">30</text>
<line x1="469.7" y1="114" x2="469.7" y2="112" stroke="#333" stroke-width="0.8"/>
<text x="495.1" y="121.98" font-size="7.6" fill="#222" text-anchor="middle" stroke="#222" stroke-width="0.22">40</text>
<line x1="495.1" y1="114" x2="495.1" y2="112" stroke="#333" stroke-width="0.8"/>
<text x="520.5" y="121.98" font-size="7.6" fill="#222" text-anchor="middle" stroke="#222" stroke-width="0.22">50</text>
<line x1="520.5" y1="114" x2="520.5" y2="112" stroke="#333" stroke-width="0.8"/>
<text x="528.3" y="29.58" font-size="7.6" fill="#222" text-anchor="middle" stroke="#222" stroke-width="0.22" textLength="10.8" lengthAdjust="spacingAndGlyphs">100</text>
<text x="526.7" y="35.18" font-size="7.6" fill="#222" text-anchor="middle" stroke="#222" stroke-width="0.22" textLength="7" lengthAdjust="spacingAndGlyphs">60</text>
<text x="373.7" y="72" font-size="10.5" fill="#111" text-anchor="middle" stroke="#111" stroke-width="0.3" textLength="124.4" lengthAdjust="spacingAndGlyphs" transform="rotate(-90 373.7 72)">Specific capacity (mAh g<tspan dy="-3.5" font-size="6.5">-1</tspan><tspan dy="3.5">)</tspan></text>
<text x="543.9" y="75" font-size="10.8" fill="#111" text-anchor="middle" stroke="#111" stroke-width="0.3" textLength="117.2" lengthAdjust="spacingAndGlyphs" transform="rotate(-90 543.9 75)">Coulombic efficiency (%)</text>
<text x="427.4" y="136.7" font-size="11.5" fill="#111" text-anchor="start" stroke="#111" stroke-width="0.3" textLength="64.1" lengthAdjust="spacingAndGlyphs">Cycle number</text>
<line x1="44.8" y1="184.5" x2="44.8" y2="245" stroke="#f07070" stroke-width="0.7"/>
<line x1="127" y1="219.5" x2="127" y2="245" stroke="#70a0f0" stroke-width="0.7"/>
<line x1="137.6" y1="217.5" x2="137.6" y2="245" stroke="#f07070" stroke-width="0.7"/>
<path d="M36.2,244 C36.22,239.17 36.17,221.5 36.3,215 C36.43,208.5 36.55,207.08 37,205 C37.45,202.92 38.3,203 39,202.5 C39.7,202 38.03,202.28 41.2,202 C44.37,201.72 51.2,201.4 58,200.8 C64.8,200.2 74,199.2 82,198.4 C90,197.6 98,196.8 106,196 C114,195.2 122.83,194.4 130,193.6 C137.17,192.8 144.67,191.83 149,191.2 C153.33,190.57 153.75,190.4 156,189.8 C158.25,189.2 161.42,187.97 162.5,187.6" fill="none" stroke="#2b6fd9" stroke-width="1.9" stroke-linejoin="round" stroke-linecap="round"/>
<path d="M35.6,149 C35.7,153.33 35.87,168.57 36.2,175 C36.53,181.43 36.37,185.23 37.6,187.6 C38.83,189.97 40.2,188.68 43.6,189.2 C47,189.72 53.6,190.27 58,190.7 C62.4,191.13 67,191.42 70,191.8 C73,192.18 74,192.47 76,193 C78,193.53 79.8,193.9 82,195 C84.2,196.1 86.8,197.83 89.2,199.6 C91.6,201.37 94.42,204 96.4,205.6 C98.38,207.2 98.72,208.22 101.1,209.2 C103.48,210.18 107.5,210.52 110.7,211.5 C113.9,212.48 117.7,213.82 120.3,215.1 C122.9,216.38 124.7,218.6 126.3,219.2 C127.9,219.8 128.5,218.98 129.9,218.7 C131.3,218.42 132.3,217.77 134.7,217.5 C137.1,217.23 139.67,217.22 144.3,217.1 C148.93,216.98 159.47,216.85 162.5,216.8" fill="none" stroke="#2b6fd9" stroke-width="1.9" stroke-linejoin="round" stroke-linecap="round"/>
<path d="M36.3,244 C36.33,236.67 36.22,209 36.5,200 C36.78,191 37.33,192.33 38,190 C38.67,187.67 39.57,187 40.5,186 C41.43,185 42.52,184.25 43.6,184 C44.68,183.75 45.6,184.23 47,184.5 C48.4,184.77 50.17,185.28 52,185.6 C53.83,185.92 55,186.12 58,186.4 C61,186.68 65,187.28 70,187.3 C75,187.32 82,186.83 88,186.5 C94,186.17 99,185.72 106,185.3 C113,184.88 120.58,184.42 130,184 C139.42,183.58 157.08,183 162.5,182.8" fill="none" stroke="#e8202a" stroke-width="1.9" stroke-linejoin="round" stroke-linecap="round"/>
<path d="M36.2,166.5 C36.27,168.08 36.37,172.78 36.6,176 C36.83,179.22 36.43,183.75 37.6,185.8 C38.77,187.85 40.2,187.6 43.6,188.3 C47,189 53.6,189.45 58,190 C62.4,190.55 67,191.1 70,191.6 C73,192.1 74,192.27 76,193 C78,193.73 80.2,194.58 82,196 C83.8,197.42 84.8,199.7 86.8,201.5 C88.8,203.3 90.8,205.32 94,206.8 C97.2,208.28 102,209.33 106,210.4 C110,211.47 114,212.22 118,213.2 C122,214.18 127.22,215.58 130,216.3 C132.78,217.02 132.2,217.35 134.7,217.5 C137.2,217.65 140.37,217.28 145,217.2 C149.63,217.12 159.58,217.03 162.5,217" fill="none" stroke="#e8202a" stroke-width="1.9" stroke-linejoin="round" stroke-linecap="round"/>
<rect x="36" y="149.9" width="126.7" height="95.1" fill="none" stroke="#333" stroke-width="1"/>
<line x1="130.6" y1="209.5" x2="130.6" y2="214.2" stroke="#2b6fd9" stroke-width="0.8"/>
<path d="M130.6,215.8 L129.3,213.6 L131.9,213.6 Z" fill="#2b6fd9"/>
<line x1="130.6" y1="224.5" x2="130.6" y2="221.4" stroke="#2b6fd9" stroke-width="0.8"/>
<path d="M130.6,219.8 L129.3,222 L131.9,222 Z" fill="#2b6fd9"/>
<line x1="145.5" y1="209.5" x2="145.5" y2="214.2" stroke="#e8202a" stroke-width="0.8"/>
<path d="M145.5,215.8 L144.2,213.6 L146.8,213.6 Z" fill="#e8202a"/>
<line x1="145.5" y1="224.5" x2="145.5" y2="221.4" stroke="#e8202a" stroke-width="0.8"/>
<path d="M145.5,219.8 L144.2,222 L146.8,222 Z" fill="#e8202a"/>
<text x="126.9" y="208.27" font-size="5.8" fill="#2b6fd9" text-anchor="middle" stroke="#2b6fd9" stroke-width="0.18" textLength="10.8" lengthAdjust="spacingAndGlyphs">30 mV</text>
<text x="147.3" y="208.27" font-size="5.8" fill="#e8202a" text-anchor="middle" stroke="#e8202a" stroke-width="0.18" textLength="10.8" lengthAdjust="spacingAndGlyphs">9 mV</text>
<text x="46" y="230.7" font-size="5.8" fill="#e8202a" text-anchor="start" stroke="#e8202a" stroke-width="0.18" textLength="22.8" lengthAdjust="spacingAndGlyphs">35 mAh g<tspan dy="-2.2" font-size="4">-1</tspan></text>
<text x="41.2" y="243.2" font-size="5.8" fill="#2b6fd9" text-anchor="start" stroke="#2b6fd9" stroke-width="0.18" textLength="19.2" lengthAdjust="spacingAndGlyphs">5 mAh g<tspan dy="-2.2" font-size="4">-1</tspan></text>
<text x="101" y="243.4" font-size="5.8" fill="#2b6fd9" text-anchor="start" stroke="#2b6fd9" stroke-width="0.18" textLength="25.3" lengthAdjust="spacingAndGlyphs">358 mAh g<tspan dy="-2.2" font-size="4">-1</tspan></text>
<text x="128.7" y="243.7" font-size="5.8" fill="#e8202a" text-anchor="start" stroke="#e8202a" stroke-width="0.18" textLength="26.3" lengthAdjust="spacingAndGlyphs">402 mAh g<tspan dy="-2.2" font-size="4">-1</tspan></text>
<line x1="42.4" y1="155.9" x2="49.6" y2="155.9" stroke="#2b6fd9" stroke-width="1.6"/>
<text x="51.3" y="157.9" font-size="6" fill="#222" text-anchor="start" stroke="#222" stroke-width="0.18" textLength="6.7" lengthAdjust="spacingAndGlyphs">CL</text>
<line x1="42.4" y1="162.9" x2="49.6" y2="162.9" stroke="#e8202a" stroke-width="1.6"/>
<text x="51.3" y="164.9" font-size="6" fill="#222" text-anchor="start" stroke="#222" stroke-width="0.18" textLength="28" lengthAdjust="spacingAndGlyphs">ZIF-67@CL</text>
<text x="32.4" y="163.65" font-size="7.8" fill="#222" text-anchor="end" stroke="#222" stroke-width="0.22">2.6</text>
<line x1="36" y1="161" x2="38" y2="161" stroke="#333" stroke-width="0.8"/>
<text x="32.4" y="184.65" font-size="7.8" fill="#222" text-anchor="end" stroke="#222" stroke-width="0.22">2.4</text>
<line x1="36" y1="182" x2="38" y2="182" stroke="#333" stroke-width="0.8"/>
<text x="32.4" y="205.65" font-size="7.8" fill="#222" text-anchor="end" stroke="#222" stroke-width="0.22">2.2</text>
<line x1="36" y1="203" x2="38" y2="203" stroke="#333" stroke-width="0.8"/>
<text x="32.4" y="226.65" font-size="7.8" fill="#222" text-anchor="end" stroke="#222" stroke-width="0.22">2.0</text>
<line x1="36" y1="224" x2="38" y2="224" stroke="#333" stroke-width="0.8"/>
<text x="32.4" y="247.65" font-size="7.8" fill="#222" text-anchor="end" stroke="#222" stroke-width="0.22">1.8</text>
<line x1="36" y1="245" x2="38" y2="245" stroke="#333" stroke-width="0.8"/>
<text x="36.2" y="253.25" font-size="7.8" fill="#222" text-anchor="middle" stroke="#222" stroke-width="0.22">0</text>
<line x1="36.2" y1="245" x2="36.2" y2="243" stroke="#333" stroke-width="0.8"/>
<text x="61.5" y="253.25" font-size="7.8" fill="#222" text-anchor="middle" stroke="#222" stroke-width="0.22">100</text>
<line x1="61.5" y1="245" x2="61.5" y2="243" stroke="#333" stroke-width="0.8"/>
<text x="86.8" y="253.25" font-size="7.8" fill="#222" text-anchor="middle" stroke="#222" stroke-width="0.22">200</text>
<line x1="86.8" y1="245" x2="86.8" y2="243" stroke="#333" stroke-width="0.8"/>
<text x="112.1" y="253.25" font-size="7.8" fill="#222" text-anchor="middle" stroke="#222" stroke-width="0.22">300</text>
<line x1="112.1" y1="245" x2="112.1" y2="243" stroke="#333" stroke-width="0.8"/>
<text x="137.4" y="253.25" font-size="7.8" fill="#222" text-anchor="middle" stroke="#222" stroke-width="0.22">400</text>
<line x1="137.4" y1="245" x2="137.4" y2="243" stroke="#333" stroke-width="0.8"/>
<text x="162.7" y="253.25" font-size="7.8" fill="#222" text-anchor="middle" stroke="#222" stroke-width="0.22">500</text>
<line x1="162.7" y1="245" x2="162.7" y2="243" stroke="#333" stroke-width="0.8"/>
<text x="19.6" y="200.5" font-size="11" fill="#111" text-anchor="middle" stroke="#111" stroke-width="0.3" textLength="52.5" lengthAdjust="spacingAndGlyphs" transform="rotate(-90 19.6 200.5)">Voltage (V)</text>
<text x="37.7" y="265" font-size="11" fill="#111" text-anchor="start" stroke="#111" stroke-width="0.3" textLength="122.3" lengthAdjust="spacingAndGlyphs">Specific capacity (mAh g<tspan dy="-3.5" font-size="6.5">-1</tspan><tspan dy="3.5">)</tspan></text>
<line x1="162.7" y1="149.4" x2="213" y2="184.5" stroke="#3a66c8" stroke-width="1.6" stroke-dasharray="8.5 5" stroke-dashoffset="6"/>
<line x1="162.7" y1="245.3" x2="213" y2="214.6" stroke="#3a66c8" stroke-width="1.6" stroke-dasharray="8.5 5" stroke-dashoffset="6"/>
<line x1="281.2" y1="228" x2="281.2" y2="245" stroke="#70a0f0" stroke-width="0.7"/>
<line x1="304" y1="228.5" x2="304" y2="245" stroke="#f07070" stroke-width="0.7"/>
<path d="M213.7,231 C213.68,225.83 213.62,206.83 213.6,200 C213.58,193.17 213.43,191.92 213.6,190 C213.77,188.08 214.12,188.63 214.6,188.5 C215.08,188.37 215.75,188.75 216.5,189.2 C217.25,189.65 218.02,190.85 219.1,191.2 C220.18,191.55 221.48,191.35 223,191.3 C224.52,191.25 225.82,191.18 228.2,190.9 C230.58,190.62 233.67,189.92 237.3,189.6 C240.93,189.28 246.25,189.18 250,189 C253.75,188.82 255.98,188.85 259.8,188.5 C263.62,188.15 268.95,187.43 272.9,186.9 C276.85,186.37 280.75,185.73 283.5,185.3 C286.25,184.87 288.08,184.8 289.4,184.3 C290.72,183.8 290.85,184.07 291.4,182.3 C291.95,180.53 292.37,177 292.7,173.7 C293.03,170.4 293.28,164.37 293.4,162.5" fill="none" stroke="#e8202a" stroke-width="1.9" stroke-linejoin="round" stroke-linecap="round"/>
<path d="M213.3,201.5 C215.03,201.03 220.45,199.4 223.7,198.7 C226.95,198 229.77,197.75 232.8,197.3 C235.83,196.85 239.37,196.43 241.9,196 C244.43,195.57 246.12,195.3 248,194.7 C249.88,194.1 251.68,193.37 253.2,192.4 C254.72,191.43 255.78,189.87 257.1,188.9 C258.42,187.93 259.55,187.27 261.1,186.6 C262.65,185.93 264.98,185.33 266.4,184.9 C267.82,184.47 268.77,184.55 269.6,184 C270.43,183.45 270.95,182.87 271.4,181.6 C271.85,180.33 272.08,179.58 272.3,176.4 C272.52,173.22 272.63,164.82 272.7,162.5" fill="none" stroke="#2b6fd9" stroke-width="1.9" stroke-linejoin="round" stroke-linecap="round"/>
<path d="M213.2,150.5 C213.22,156.25 213.17,177.98 213.3,185 C213.43,192.02 213.05,191.2 214,192.6 C214.95,194 217.33,193.13 219,193.4 C220.67,193.67 222.47,193.55 224,194.2 C225.53,194.85 227.03,196.02 228.2,197.3 C229.37,198.58 230.08,200.68 231,201.9 C231.92,203.12 232.18,203.53 233.7,204.6 C235.22,205.67 238.58,207.38 240.1,208.3 C241.62,209.22 241.73,209.77 242.8,210.1 C243.87,210.43 243.63,210.27 246.5,210.3 C249.37,210.33 255.42,210.27 260,210.3 C264.58,210.33 271.08,210.25 274,210.5 C276.92,210.75 276.6,210.97 277.5,211.8 C278.4,212.63 278.92,213.63 279.4,215.5 C279.88,217.37 280.05,220.12 280.4,223 C280.75,225.88 281.32,231.17 281.5,232.8" fill="none" stroke="#2b6fd9" stroke-width="1.9" stroke-linejoin="round" stroke-linecap="round"/>
<path d="M213.4,191.5 C213.6,191.63 213.65,192.02 214.6,192.3 C215.55,192.58 217.43,192.9 219.1,193.2 C220.77,193.5 223.08,193.57 224.6,194.1 C226.12,194.63 227.3,195.45 228.2,196.4 C229.1,197.35 229.38,198.7 230,199.8 C230.62,200.9 230.98,202.12 231.9,203 C232.82,203.88 234.13,204.38 235.5,205.1 C236.87,205.82 238.73,206.63 240.1,207.3 C241.47,207.97 242.63,208.75 243.7,209.1 C244.77,209.45 245.45,209.4 246.5,209.4 C247.55,209.4 247.75,209.07 250,209.1 C252.25,209.13 256.5,209.48 260,209.6 C263.5,209.72 268.58,209.63 271,209.8 C273.42,209.97 273.45,210.07 274.5,210.6 C275.55,211.13 276.45,212.18 277.3,213 C278.15,213.82 278.73,214.87 279.6,215.5 C280.47,216.13 281.43,216.48 282.5,216.8 C283.57,217.12 284.18,217.08 286,217.4 C287.82,217.72 291.4,218.1 293.4,218.7 C295.4,219.3 296.45,219.95 298,221 C299.55,222.05 301.13,223.95 302.7,225 C304.27,226.05 305.05,226.8 307.4,227.3 C309.75,227.8 314.45,227.73 316.8,228 C319.15,228.27 320.2,228.5 321.5,228.9 C322.8,229.3 323.7,229.75 324.6,230.4 C325.5,231.05 326.52,232.4 326.9,232.8" fill="none" stroke="#e8202a" stroke-width="1.9" stroke-linejoin="round" stroke-linecap="round"/>
<rect x="213" y="184.4" width="31.4" height="30.3" fill="none" stroke="#3a66c8" stroke-width="1.6" stroke-dasharray="6 3.6" stroke-dashoffset="-2"/>
<rect x="213" y="149.6" width="126.8" height="95.4" fill="none" stroke="#333" stroke-width="1"/>
<line x1="275.5" y1="229.6" x2="324" y2="229.6" stroke="#e8202a" stroke-width="0.9"/>
<path d="M272.8,229.6 L276.3,227.8 L276.3,231.4 Z" fill="#e8202a"/>
<text x="226" y="231.6" font-size="5.8" fill="#e8202a" text-anchor="start" stroke="#e8202a" stroke-width="0.18" textLength="44.7" lengthAdjust="spacingAndGlyphs">LiNO<tspan dy="1.2" font-size="4">3</tspan><tspan dy="-1.2"> decomposition</tspan></text>
<text x="292.6" y="207.5" font-size="5.8" fill="#e8202a" text-anchor="start" stroke="#e8202a" stroke-width="0.18" textLength="44.4" lengthAdjust="spacingAndGlyphs">Co discharge plateau</text>
<line x1="294.2" y1="217.2" x2="301.5" y2="209.8" stroke="#e8202a" stroke-width="0.8"/>
<path d="M303.2,208.2 L302.6,211.6 L300,209.1 Z" fill="#e8202a"/>
<text x="278.6" y="243.6" font-size="6.3" fill="#2b6fd9" text-anchor="start" stroke="#2b6fd9" stroke-width="0.18" textLength="24.9" lengthAdjust="spacingAndGlyphs">814 mAh g<tspan dy="-2.3" font-size="4.2">-1</tspan></text>
<text x="304.3" y="243.6" font-size="6.3" fill="#e8202a" text-anchor="start" stroke="#e8202a" stroke-width="0.18" textLength="28.1" lengthAdjust="spacingAndGlyphs">1079 mAh g<tspan dy="-2.3" font-size="4.2">-1</tspan></text>
<text x="216.2" y="241.9" font-size="5.2" fill="#222" text-anchor="start" stroke="#222" stroke-width="0.18" textLength="11" lengthAdjust="spacingAndGlyphs">0.2C</text>
<line x1="220.7" y1="157.8" x2="226.6" y2="157.8" stroke="#2b6fd9" stroke-width="1.6"/>
<text x="228.9" y="159.9" font-size="6.1" fill="#222" text-anchor="start" stroke="#222" stroke-width="0.18" textLength="7.1" lengthAdjust="spacingAndGlyphs">CL</text>
<line x1="220.7" y1="164.8" x2="226.6" y2="164.8" stroke="#e8202a" stroke-width="1.6"/>
<text x="230" y="166.9" font-size="6.1" fill="#222" text-anchor="start" stroke="#222" stroke-width="0.18" textLength="27.6" lengthAdjust="spacingAndGlyphs">ZIF-67@CL</text>
<text x="211" y="165.05" font-size="7.8" fill="#222" text-anchor="end" stroke="#222" stroke-width="0.22">2.8</text>
<line x1="213" y1="162.4" x2="215" y2="162.4" stroke="#333" stroke-width="0.8"/>
<text x="211" y="190.85" font-size="7.8" fill="#222" text-anchor="end" stroke="#222" stroke-width="0.22">2.4</text>
<line x1="213" y1="188.2" x2="215" y2="188.2" stroke="#333" stroke-width="0.8"/>
<text x="211" y="216.65" font-size="7.8" fill="#222" text-anchor="end" stroke="#222" stroke-width="0.22">2.0</text>
<line x1="213" y1="214" x2="215" y2="214" stroke="#333" stroke-width="0.8"/>
<text x="211" y="242.45" font-size="7.8" fill="#222" text-anchor="end" stroke="#222" stroke-width="0.22">1.6</text>
<line x1="213" y1="239.8" x2="215" y2="239.8" stroke="#333" stroke-width="0.8"/>
<text x="212.6" y="253.55" font-size="7.8" fill="#222" text-anchor="middle" stroke="#222" stroke-width="0.22">0</text>
<line x1="212.6" y1="245" x2="212.6" y2="243" stroke="#333" stroke-width="0.8"/>
<text x="238.1" y="253.55" font-size="7.8" fill="#222" text-anchor="middle" stroke="#222" stroke-width="0.22">300</text>
<line x1="238.1" y1="245" x2="238.1" y2="243" stroke="#333" stroke-width="0.8"/>
<text x="263.6" y="253.55" font-size="7.8" fill="#222" text-anchor="middle" stroke="#222" stroke-width="0.22">600</text>
<line x1="263.6" y1="245" x2="263.6" y2="243" stroke="#333" stroke-width="0.8"/>
<text x="289.1" y="253.55" font-size="7.8" fill="#222" text-anchor="middle" stroke="#222" stroke-width="0.22">900</text>
<line x1="289.1" y1="245" x2="289.1" y2="243" stroke="#333" stroke-width="0.8"/>
<text x="314.6" y="253.55" font-size="7.8" fill="#222" text-anchor="middle" stroke="#222" stroke-width="0.22">1200</text>
<line x1="314.6" y1="245" x2="314.6" y2="243" stroke="#333" stroke-width="0.8"/>
<text x="340.1" y="253.55" font-size="7.8" fill="#222" text-anchor="middle" stroke="#222" stroke-width="0.22">1500</text>
<line x1="340.1" y1="245" x2="340.1" y2="243" stroke="#333" stroke-width="0.8"/>
<text x="198.6" y="197.8" font-size="11" fill="#111" text-anchor="middle" stroke="#111" stroke-width="0.3" textLength="52.5" lengthAdjust="spacingAndGlyphs" transform="rotate(-90 198.6 197.8)">Voltage (V)</text>
<text x="214.5" y="264.5" font-size="11" fill="#111" text-anchor="start" stroke="#111" stroke-width="0.3" textLength="123.2" lengthAdjust="spacingAndGlyphs">Specific capacity (mAh g<tspan dy="-3.5" font-size="6.5">-1</tspan><tspan dy="3.5">)</tspan></text>
<rect x="393.4" y="149.5" width="127.8" height="13.9" fill="#faeacb"/>
<line x1="415.58" y1="164" x2="415.58" y2="245.3" stroke="#9a9a9a" stroke-width="0.7" stroke-dasharray="1.3 1.3"/>
<line x1="436.97" y1="164" x2="436.97" y2="245.3" stroke="#9a9a9a" stroke-width="0.7" stroke-dasharray="1.3 1.3"/>
<line x1="458.36" y1="164" x2="458.36" y2="245.3" stroke="#9a9a9a" stroke-width="0.7" stroke-dasharray="1.3 1.3"/>
<line x1="479.74" y1="164" x2="479.74" y2="245.3" stroke="#9a9a9a" stroke-width="0.7" stroke-dasharray="1.3 1.3"/>
<line x1="501.12" y1="164" x2="501.12" y2="245.3" stroke="#9a9a9a" stroke-width="0.7" stroke-dasharray="1.3 1.3"/>
<text x="400" y="167.9" font-size="5.7" fill="#333" text-anchor="start" stroke="#333" stroke-width="0.18" textLength="11" lengthAdjust="spacingAndGlyphs">0.1 C</text>
<text x="421.5" y="167.9" font-size="5.7" fill="#333" text-anchor="start" stroke="#333" stroke-width="0.18" textLength="11" lengthAdjust="spacingAndGlyphs">0.2 C</text>
<text x="441.6" y="167.9" font-size="5.7" fill="#333" text-anchor="start" stroke="#333" stroke-width="0.18" textLength="11" lengthAdjust="spacingAndGlyphs">0.5 C</text>
<text x="464.3" y="167.9" font-size="5.7" fill="#333" text-anchor="start" stroke="#333" stroke-width="0.18" textLength="6.6" lengthAdjust="spacingAndGlyphs">1 C</text>
<text x="484.5" y="167.9" font-size="5.7" fill="#333" text-anchor="start" stroke="#333" stroke-width="0.18" textLength="6.6" lengthAdjust="spacingAndGlyphs">2 C</text>
<text x="504.6" y="167.9" font-size="5.7" fill="#333" text-anchor="start" stroke="#333" stroke-width="0.18" textLength="11" lengthAdjust="spacingAndGlyphs">0.1 C</text>
<circle cx="397.58" cy="159.2" r="2.2" fill="url(#hb)" stroke="#2b6fd9" stroke-width="0.6"/>
<circle cx="401.85" cy="156.4" r="2.2" fill="url(#hb)" stroke="#2b6fd9" stroke-width="0.6"/>
<circle cx="406.13" cy="156.4" r="2.2" fill="url(#hb)" stroke="#2b6fd9" stroke-width="0.6"/>
<circle cx="410.41" cy="156.4" r="2.2" fill="url(#hb)" stroke="#2b6fd9" stroke-width="0.6"/>
<circle cx="414.69" cy="156.4" r="2.2" fill="url(#hb)" stroke="#2b6fd9" stroke-width="0.6"/>
<circle cx="418.96" cy="156.4" r="2.2" fill="url(#hb)" stroke="#2b6fd9" stroke-width="0.6"/>
<circle cx="423.24" cy="156.4" r="2.2" fill="url(#hb)" stroke="#2b6fd9" stroke-width="0.6"/>
<circle cx="427.52" cy="156.4" r="2.2" fill="url(#hb)" stroke="#2b6fd9" stroke-width="0.6"/>
<circle cx="431.79" cy="156.4" r="2.2" fill="url(#hb)" stroke="#2b6fd9" stroke-width="0.6"/>
<circle cx="436.07" cy="156.4" r="2.2" fill="url(#hb)" stroke="#2b6fd9" stroke-width="0.6"/>
<circle cx="440.35" cy="156.4" r="2.2" fill="url(#hb)" stroke="#2b6fd9" stroke-width="0.6"/>
<circle cx="444.62" cy="156.4" r="2.2" fill="url(#hb)" stroke="#2b6fd9" stroke-width="0.6"/>
<circle cx="448.9" cy="156.4" r="2.2" fill="url(#hb)" stroke="#2b6fd9" stroke-width="0.6"/>
<circle cx="453.18" cy="156.4" r="2.2" fill="url(#hb)" stroke="#2b6fd9" stroke-width="0.6"/>
<circle cx="457.46" cy="156.4" r="2.2" fill="url(#hb)" stroke="#2b6fd9" stroke-width="0.6"/>
<circle cx="461.73" cy="156.4" r="2.2" fill="url(#hb)" stroke="#2b6fd9" stroke-width="0.6"/>
<circle cx="466.01" cy="156.4" r="2.2" fill="url(#hb)" stroke="#2b6fd9" stroke-width="0.6"/>
<circle cx="470.29" cy="156.4" r="2.2" fill="url(#hb)" stroke="#2b6fd9" stroke-width="0.6"/>
<circle cx="474.56" cy="156.4" r="2.2" fill="url(#hb)" stroke="#2b6fd9" stroke-width="0.6"/>
<circle cx="478.84" cy="156.4" r="2.2" fill="url(#hb)" stroke="#2b6fd9" stroke-width="0.6"/>
<circle cx="483.12" cy="158.4" r="2.2" fill="url(#hb)" stroke="#2b6fd9" stroke-width="0.6"/>
<circle cx="487.39" cy="156.9" r="2.2" fill="url(#hb)" stroke="#2b6fd9" stroke-width="0.6"/>
<circle cx="491.67" cy="156.9" r="2.2" fill="url(#hb)" stroke="#2b6fd9" stroke-width="0.6"/>
<circle cx="495.95" cy="156.9" r="2.2" fill="url(#hb)" stroke="#2b6fd9" stroke-width="0.6"/>
<circle cx="500.23" cy="156.9" r="2.2" fill="url(#hb)" stroke="#2b6fd9" stroke-width="0.6"/>
<circle cx="504.5" cy="150.9" r="2.2" fill="url(#hb)" stroke="#2b6fd9" stroke-width="0.6"/>
<circle cx="508.78" cy="156.4" r="2.2" fill="url(#hb)" stroke="#2b6fd9" stroke-width="0.6"/>
<circle cx="513.06" cy="156.4" r="2.2" fill="url(#hb)" stroke="#2b6fd9" stroke-width="0.6"/>
<circle cx="517.33" cy="156.4" r="2.2" fill="url(#hb)" stroke="#2b6fd9" stroke-width="0.6"/>
<circle cx="521.61" cy="156.4" r="2.2" fill="url(#hb)" stroke="#2b6fd9" stroke-width="0.6"/>
<circle cx="397.58" cy="161.2" r="2.3" fill="url(#hr)" stroke="#e8202a" stroke-width="0.6"/>
<circle cx="401.85" cy="157.5" r="2.3" fill="url(#hr)" stroke="#e8202a" stroke-width="0.6"/>
<circle cx="406.13" cy="157.5" r="2.3" fill="url(#hr)" stroke="#e8202a" stroke-width="0.6"/>
<circle cx="410.41" cy="157.5" r="2.3" fill="url(#hr)" stroke="#e8202a" stroke-width="0.6"/>
<circle cx="414.69" cy="157.5" r="2.3" fill="url(#hr)" stroke="#e8202a" stroke-width="0.6"/>
<circle cx="418.96" cy="157.5" r="2.3" fill="url(#hr)" stroke="#e8202a" stroke-width="0.6"/>
<circle cx="423.24" cy="157.5" r="2.3" fill="url(#hr)" stroke="#e8202a" stroke-width="0.6"/>
<circle cx="427.52" cy="157.5" r="2.3" fill="url(#hr)" stroke="#e8202a" stroke-width="0.6"/>
<circle cx="431.79" cy="157.5" r="2.3" fill="url(#hr)" stroke="#e8202a" stroke-width="0.6"/>
<circle cx="436.07" cy="157.5" r="2.3" fill="url(#hr)" stroke="#e8202a" stroke-width="0.6"/>
<circle cx="440.35" cy="157.5" r="2.3" fill="url(#hr)" stroke="#e8202a" stroke-width="0.6"/>
<circle cx="444.62" cy="157.5" r="2.3" fill="url(#hr)" stroke="#e8202a" stroke-width="0.6"/>
<circle cx="448.9" cy="157.5" r="2.3" fill="url(#hr)" stroke="#e8202a" stroke-width="0.6"/>
<circle cx="453.18" cy="157.5" r="2.3" fill="url(#hr)" stroke="#e8202a" stroke-width="0.6"/>
<circle cx="457.46" cy="157.5" r="2.3" fill="url(#hr)" stroke="#e8202a" stroke-width="0.6"/>
<circle cx="461.73" cy="157.5" r="2.3" fill="url(#hr)" stroke="#e8202a" stroke-width="0.6"/>
<circle cx="466.01" cy="157.5" r="2.3" fill="url(#hr)" stroke="#e8202a" stroke-width="0.6"/>
<circle cx="470.29" cy="157.5" r="2.3" fill="url(#hr)" stroke="#e8202a" stroke-width="0.6"/>
<circle cx="474.56" cy="157.5" r="2.3" fill="url(#hr)" stroke="#e8202a" stroke-width="0.6"/>
<circle cx="478.84" cy="157.5" r="2.3" fill="url(#hr)" stroke="#e8202a" stroke-width="0.6"/>
<circle cx="483.12" cy="159.5" r="2.3" fill="url(#hr)" stroke="#e8202a" stroke-width="0.6"/>
<circle cx="487.39" cy="158" r="2.3" fill="url(#hr)" stroke="#e8202a" stroke-width="0.6"/>
<circle cx="491.67" cy="158" r="2.3" fill="url(#hr)" stroke="#e8202a" stroke-width="0.6"/>
<circle cx="495.95" cy="158" r="2.3" fill="url(#hr)" stroke="#e8202a" stroke-width="0.6"/>
<circle cx="500.23" cy="158" r="2.3" fill="url(#hr)" stroke="#e8202a" stroke-width="0.6"/>
<circle cx="504.5" cy="152" r="2.3" fill="url(#hr)" stroke="#e8202a" stroke-width="0.6"/>
<circle cx="508.78" cy="157.5" r="2.3" fill="url(#hr)" stroke="#e8202a" stroke-width="0.6"/>
<circle cx="513.06" cy="157.5" r="2.3" fill="url(#hr)" stroke="#e8202a" stroke-width="0.6"/>
<circle cx="517.33" cy="157.5" r="2.3" fill="url(#hr)" stroke="#e8202a" stroke-width="0.6"/>
<circle cx="521.61" cy="157.5" r="2.3" fill="url(#hr)" stroke="#e8202a" stroke-width="0.6"/>
<circle cx="397.58" cy="196.62" r="2.3" fill="url(#gb)"/>
<circle cx="401.85" cy="211.21" r="2.3" fill="url(#gb)"/>
<circle cx="406.13" cy="213.49" r="2.3" fill="url(#gb)"/>
<circle cx="410.41" cy="215.49" r="2.3" fill="url(#gb)"/>
<circle cx="414.69" cy="216.82" r="2.3" fill="url(#gb)"/>
<circle cx="418.96" cy="219.98" r="2.3" fill="url(#gb)"/>
<circle cx="423.24" cy="220.98" r="2.3" fill="url(#gb)"/>
<circle cx="427.52" cy="221.48" r="2.3" fill="url(#gb)"/>
<circle cx="431.79" cy="221.92" r="2.3" fill="url(#gb)"/>
<circle cx="436.07" cy="222.31" r="2.3" fill="url(#gb)"/>
<circle cx="440.35" cy="224.81" r="2.3" fill="url(#gb)"/>
<circle cx="444.62" cy="225.25" r="2.3" fill="url(#gb)"/>
<circle cx="448.9" cy="225.37" r="2.3" fill="url(#gb)"/>
<circle cx="453.18" cy="225.48" r="2.3" fill="url(#gb)"/>
<circle cx="457.46" cy="225.59" r="2.3" fill="url(#gb)"/>
<circle cx="461.73" cy="226.92" r="2.3" fill="url(#gb)"/>
<circle cx="466.01" cy="227.31" r="2.3" fill="url(#gb)"/>
<circle cx="470.29" cy="227.42" r="2.3" fill="url(#gb)"/>
<circle cx="474.56" cy="227.47" r="2.3" fill="url(#gb)"/>
<circle cx="478.84" cy="227.59" r="2.3" fill="url(#gb)"/>
<circle cx="483.12" cy="240.18" r="2.3" fill="url(#gb)"/>
<circle cx="487.39" cy="243.68" r="2.3" fill="url(#gb)"/>
<circle cx="491.67" cy="243.79" r="2.3" fill="url(#gb)"/>
<circle cx="495.95" cy="243.85" r="2.3" fill="url(#gb)"/>
<circle cx="500.23" cy="243.9" r="2.3" fill="url(#gb)"/>
<circle cx="504.5" cy="224.81" r="2.3" fill="url(#gb)"/>
<circle cx="508.78" cy="219.32" r="2.3" fill="url(#gb)"/>
<circle cx="513.06" cy="219.54" r="2.3" fill="url(#gb)"/>
<circle cx="517.33" cy="219.81" r="2.3" fill="url(#gb)"/>
<circle cx="521.61" cy="220.09" r="2.3" fill="url(#gb)"/>
<circle cx="397.58" cy="168.2" r="2.3" fill="url(#gr)"/>
<circle cx="401.85" cy="188.29" r="2.3" fill="url(#gr)"/>
<circle cx="406.13" cy="193.4" r="2.3" fill="url(#gr)"/>
<circle cx="410.41" cy="196.12" r="2.3" fill="url(#gr)"/>
<circle cx="414.69" cy="198.39" r="2.3" fill="url(#gr)"/>
<circle cx="418.96" cy="202.22" r="2.3" fill="url(#gr)"/>
<circle cx="423.24" cy="203.39" r="2.3" fill="url(#gr)"/>
<circle cx="427.52" cy="204.28" r="2.3" fill="url(#gr)"/>
<circle cx="431.79" cy="204.83" r="2.3" fill="url(#gr)"/>
<circle cx="436.07" cy="205.72" r="2.3" fill="url(#gr)"/>
<circle cx="440.35" cy="208.49" r="2.3" fill="url(#gr)"/>
<circle cx="444.62" cy="208.99" r="2.3" fill="url(#gr)"/>
<circle cx="448.9" cy="209.27" r="2.3" fill="url(#gr)"/>
<circle cx="453.18" cy="209.82" r="2.3" fill="url(#gr)"/>
<circle cx="457.46" cy="210.49" r="2.3" fill="url(#gr)"/>
<circle cx="461.73" cy="212.49" r="2.3" fill="url(#gr)"/>
<circle cx="466.01" cy="212.88" r="2.3" fill="url(#gr)"/>
<circle cx="470.29" cy="213.16" r="2.3" fill="url(#gr)"/>
<circle cx="474.56" cy="213.27" r="2.3" fill="url(#gr)"/>
<circle cx="478.84" cy="213.82" r="2.3" fill="url(#gr)"/>
<circle cx="483.12" cy="219.98" r="2.3" fill="url(#gr)"/>
<circle cx="487.39" cy="223.59" r="2.3" fill="url(#gr)"/>
<circle cx="491.67" cy="225.09" r="2.3" fill="url(#gr)"/>
<circle cx="495.95" cy="226.09" r="2.3" fill="url(#gr)"/>
<circle cx="500.23" cy="227.09" r="2.3" fill="url(#gr)"/>
<circle cx="504.5" cy="214.99" r="2.3" fill="url(#gr)"/>
<circle cx="508.78" cy="208.49" r="2.3" fill="url(#gr)"/>
<circle cx="513.06" cy="209.21" r="2.3" fill="url(#gr)"/>
<circle cx="517.33" cy="209.55" r="2.3" fill="url(#gr)"/>
<circle cx="521.61" cy="210.49" r="2.3" fill="url(#gr)"/>
<rect x="393.4" y="149.5" width="127.8" height="95.8" fill="none" stroke="#333" stroke-width="1.1"/>
<circle cx="478.2" cy="175.7" r="2.4" fill="url(#gb)"/>
<circle cx="487" cy="175.7" r="2.2" fill="url(#hb)" stroke="#2b6fd9" stroke-width="0.6"/>
<text x="490.8" y="177.9" font-size="6.3" fill="#222" text-anchor="start" stroke="#222" stroke-width="0.18" textLength="6.5" lengthAdjust="spacingAndGlyphs">CL</text>
<circle cx="478.2" cy="182.8" r="2.4" fill="url(#gr)"/>
<circle cx="487" cy="182.8" r="2.2" fill="url(#hr)" stroke="#e8202a" stroke-width="0.6"/>
<text x="490.8" y="185" font-size="6.3" fill="#222" text-anchor="start" stroke="#222" stroke-width="0.18" textLength="27.7" lengthAdjust="spacingAndGlyphs">ZIF-67@CL</text>
<text x="392.3" y="160.58" font-size="7.6" fill="#222" text-anchor="end" stroke="#222" stroke-width="0.22">1600</text>
<line x1="393.4" y1="158" x2="395.4" y2="158" stroke="#333" stroke-width="0.8"/>
<text x="392.3" y="182.55" font-size="7.6" fill="#222" text-anchor="end" stroke="#222" stroke-width="0.22">1200</text>
<line x1="393.4" y1="179.97" x2="395.4" y2="179.97" stroke="#333" stroke-width="0.8"/>
<text x="392.3" y="204.52" font-size="7.6" fill="#222" text-anchor="end" stroke="#222" stroke-width="0.22">800</text>
<line x1="393.4" y1="201.94" x2="395.4" y2="201.94" stroke="#333" stroke-width="0.8"/>
<text x="392.3" y="226.49" font-size="7.6" fill="#222" text-anchor="end" stroke="#222" stroke-width="0.22">400</text>
<line x1="393.4" y1="223.91" x2="395.4" y2="223.91" stroke="#333" stroke-width="0.8"/>
<text x="392.3" y="248.46" font-size="7.6" fill="#222" text-anchor="end" stroke="#222" stroke-width="0.22">0</text>
<line x1="393.4" y1="245.88" x2="395.4" y2="245.88" stroke="#333" stroke-width="0.8"/>
<text x="393.3" y="253.48" font-size="7.6" fill="#222" text-anchor="middle" stroke="#222" stroke-width="0.22">0</text>
<line x1="393.3" y1="245.3" x2="393.3" y2="243.3" stroke="#333" stroke-width="0.8"/>
<text x="414.68" y="253.48" font-size="7.6" fill="#222" text-anchor="middle" stroke="#222" stroke-width="0.22">5</text>
<line x1="414.68" y1="245.3" x2="414.68" y2="243.3" stroke="#333" stroke-width="0.8"/>
<text x="436.06" y="253.48" font-size="7.6" fill="#222" text-anchor="middle" stroke="#222" stroke-width="0.22">10</text>
<line x1="436.06" y1="245.3" x2="436.06" y2="243.3" stroke="#333" stroke-width="0.8"/>
<text x="457.44" y="253.48" font-size="7.6" fill="#222" text-anchor="middle" stroke="#222" stroke-width="0.22">15</text>
<line x1="457.44" y1="245.3" x2="457.44" y2="243.3" stroke="#333" stroke-width="0.8"/>
<text x="478.82" y="253.48" font-size="7.6" fill="#222" text-anchor="middle" stroke="#222" stroke-width="0.22">20</text>
<line x1="478.82" y1="245.3" x2="478.82" y2="243.3" stroke="#333" stroke-width="0.8"/>
<text x="500.2" y="253.48" font-size="7.6" fill="#222" text-anchor="middle" stroke="#222" stroke-width="0.22">25</text>
<line x1="500.2" y1="245.3" x2="500.2" y2="243.3" stroke="#333" stroke-width="0.8"/>
<text x="521.58" y="253.48" font-size="7.6" fill="#222" text-anchor="middle" stroke="#222" stroke-width="0.22">30</text>
<line x1="521.58" y1="245.3" x2="521.58" y2="243.3" stroke="#333" stroke-width="0.8"/>
<text x="528.3" y="160.58" font-size="7.6" fill="#222" text-anchor="middle" stroke="#222" stroke-width="0.22" textLength="10.8" lengthAdjust="spacingAndGlyphs">100</text>
<text x="526.7" y="166.88" font-size="7.6" fill="#222" text-anchor="middle" stroke="#222" stroke-width="0.22" textLength="7" lengthAdjust="spacingAndGlyphs">60</text>
<text x="373.7" y="205.5" font-size="10.5" fill="#111" text-anchor="middle" stroke="#111" stroke-width="0.3" textLength="121" lengthAdjust="spacingAndGlyphs" transform="rotate(-90 373.7 205.5)">Specific capacity (mAh g<tspan dy="-3.5" font-size="6.5">-1</tspan><tspan dy="3.5">)</tspan></text>
<text x="543.6" y="207.3" font-size="10.8" fill="#111" text-anchor="middle" stroke="#111" stroke-width="0.3" textLength="117.5" lengthAdjust="spacingAndGlyphs" transform="rotate(-90 543.6 207.3)">Coulombic efficiency (%)</text>
<text x="427" y="268" font-size="11.5" fill="#111" text-anchor="start" stroke="#111" stroke-width="0.3" textLength="64" lengthAdjust="spacingAndGlyphs">Cycle number</text>
<line x1="35.5" y1="313.1" x2="66" y2="307.1" stroke="#e6e6e6" stroke-width="0.5"/>
<line x1="66" y1="307.1" x2="139.6" y2="307.8" stroke="#e6e6e6" stroke-width="0.5"/>
<line x1="35.5" y1="330.8" x2="66" y2="322" stroke="#e6e6e6" stroke-width="0.5"/>
<line x1="66" y1="322" x2="139.6" y2="323" stroke="#e6e6e6" stroke-width="0.5"/>
<line x1="35.5" y1="348.5" x2="66" y2="336.9" stroke="#e6e6e6" stroke-width="0.5"/>
<line x1="66" y1="336.9" x2="139.6" y2="338.2" stroke="#e6e6e6" stroke-width="0.5"/>
<line x1="35.5" y1="366.2" x2="66" y2="351.8" stroke="#e6e6e6" stroke-width="0.5"/>
<line x1="66" y1="351.8" x2="139.6" y2="353.4" stroke="#e6e6e6" stroke-width="0.5"/>
<line x1="48" y1="293.15" x2="48" y2="380" stroke="#e6e6e6" stroke-width="0.5"/>
<line x1="57" y1="292.25" x2="57" y2="380" stroke="#e6e6e6" stroke-width="0.5"/>
<line x1="85" y1="292.7" x2="85" y2="370" stroke="#e6e6e6" stroke-width="0.5"/>
<line x1="104.4" y1="292.7" x2="104.4" y2="370" stroke="#e6e6e6" stroke-width="0.5"/>
<line x1="122" y1="292.7" x2="122" y2="370" stroke="#e6e6e6" stroke-width="0.5"/>
<polyline points="35.5,384 35.5,295.4 66,292.2 139.6,294.4 139.6,371" fill="none" stroke="#777" stroke-width="0.8"/>
<line x1="66" y1="292.2" x2="66" y2="366.5" stroke="#777" stroke-width="0.8"/>
<polygon points="36,384.2 124,392.7 139.3,371.2 66,366.6" fill="#d2d2d2" stroke="#666" stroke-width="0.7"/>
<polygon points="72.5,308.2 75.1,306.4 75.1,369.5 72.5,371.3" fill="url(#barbs)"/>
<polygon points="63.3,308.2 65.9,306.4 75.1,306.4 72.5,308.2" fill="#8fe0fb"/>
<rect x="63.3" y="308.2" width="9.2" height="63.1" fill="url(#barb)"/>
<polygon points="91,333.4 93.4,331.6 93.4,370.6 91,372.4" fill="url(#barbs)"/>
<polygon points="81.4,333.4 83.8,331.6 93.4,331.6 91,333.4" fill="#8fe0fb"/>
<rect x="81.4" y="333.4" width="9.6" height="39" fill="url(#barb)"/>
<polygon points="110,349.6 112.2,347.8 112.2,372 110,373.8" fill="url(#barbs)"/>
<polygon points="100.2,349.6 102.4,347.8 112.2,347.8 110,349.6" fill="#8fe0fb"/>
<rect x="100.2" y="349.6" width="9.8" height="24.2" fill="url(#barb)"/>
<polygon points="128.8,348.2 130.9,346.4 130.9,373.5 128.8,375.3" fill="url(#barbs)"/>
<polygon points="120.2,348.2 122.3,346.4 130.9,346.4 128.8,348.2" fill="#8fe0fb"/>
<rect x="120.2" y="348.2" width="8.6" height="27.1" fill="url(#barb)"/>
<polygon points="58.5,346.6 61.8,344.6 61.8,379.2 58.5,381.2" fill="url(#barrs)"/>
<polygon points="48.2,346.6 51.5,344.6 61.8,344.6 58.5,346.6" fill="#e06060"/>
<rect x="48.2" y="346.6" width="10.3" height="34.6" fill="url(#barr)"/>
<polygon points="78.9,361.4 82,359.4 82,381.2 78.9,383.2" fill="url(#barrs)"/>
<polygon points="68.4,361.4 71.5,359.4 82,359.4 78.9,361.4" fill="#e06060"/>
<rect x="68.4" y="361.4" width="10.5" height="21.8" fill="url(#barr)"/>
<polygon points="99.8,367.2 102.6,365.2 102.6,383 99.8,385" fill="url(#barrs)"/>
<polygon points="89.5,367.2 92.3,365.2 102.6,365.2 99.8,367.2" fill="#e06060"/>
<rect x="89.5" y="367.2" width="10.3" height="17.8" fill="url(#barr)"/>
<polygon points="121.6,363.4 124,361.4 124,385.5 121.6,387.5" fill="url(#barrs)"/>
<polygon points="110.8,363.4 113.2,361.4 124,361.4 121.6,363.4" fill="#e06060"/>
<rect x="110.8" y="363.4" width="10.8" height="24.1" fill="url(#barr)"/>
<line x1="139.8" y1="294.4" x2="139.8" y2="371.2" stroke="#222" stroke-width="0.9"/>
<line x1="139.8" y1="294.6" x2="141.8" y2="294.6" stroke="#222" stroke-width="0.8"/>
<line x1="139.8" y1="302.25" x2="141" y2="302.25" stroke="#222" stroke-width="0.6"/>
<text x="142.5" y="297.3" font-size="6.6" fill="#222" text-anchor="start" stroke="#222" stroke-width="0.18" textLength="12" lengthAdjust="spacingAndGlyphs">1000</text>
<line x1="139.8" y1="309.9" x2="141.8" y2="309.9" stroke="#222" stroke-width="0.8"/>
<line x1="139.8" y1="317.55" x2="141" y2="317.55" stroke="#222" stroke-width="0.6"/>
<text x="142.5" y="312.6" font-size="6.6" fill="#222" text-anchor="start" stroke="#222" stroke-width="0.18" textLength="9.2" lengthAdjust="spacingAndGlyphs">800</text>
<line x1="139.8" y1="325.2" x2="141.8" y2="325.2" stroke="#222" stroke-width="0.8"/>
<line x1="139.8" y1="332.85" x2="141" y2="332.85" stroke="#222" stroke-width="0.6"/>
<text x="142.5" y="327.9" font-size="6.6" fill="#222" text-anchor="start" stroke="#222" stroke-width="0.18" textLength="9.2" lengthAdjust="spacingAndGlyphs">600</text>
<line x1="139.8" y1="340.5" x2="141.8" y2="340.5" stroke="#222" stroke-width="0.8"/>
<line x1="139.8" y1="348.15" x2="141" y2="348.15" stroke="#222" stroke-width="0.6"/>
<text x="142.5" y="343.2" font-size="6.6" fill="#222" text-anchor="start" stroke="#222" stroke-width="0.18" textLength="9.2" lengthAdjust="spacingAndGlyphs">400</text>
<line x1="139.8" y1="355.8" x2="141.8" y2="355.8" stroke="#222" stroke-width="0.8"/>
<line x1="139.8" y1="363.45" x2="141" y2="363.45" stroke="#222" stroke-width="0.6"/>
<text x="142.5" y="358.5" font-size="6.6" fill="#222" text-anchor="start" stroke="#222" stroke-width="0.18" textLength="9.2" lengthAdjust="spacingAndGlyphs">200</text>
<line x1="139.8" y1="371.1" x2="141.8" y2="371.1" stroke="#222" stroke-width="0.8"/>
<text x="142.5" y="373.8" font-size="6.6" fill="#222" text-anchor="start" stroke="#222" stroke-width="0.18" textLength="3.2" lengthAdjust="spacingAndGlyphs">0</text>
<rect x="97.9" y="305.7" width="5.6" height="2.7" fill="#2aa0f0"/>
<text x="106.5" y="309" font-size="6.1" fill="#222" text-anchor="start" stroke="#222" stroke-width="0.18" textLength="7.2" lengthAdjust="spacingAndGlyphs">CL</text>
<rect x="97.9" y="312.2" width="5.6" height="2.7" fill="#f02020"/>
<text x="105.8" y="315.4" font-size="6.1" fill="#222" text-anchor="start" stroke="#222" stroke-width="0.18" textLength="28.1" lengthAdjust="spacingAndGlyphs">ZIF-67@CL</text>
<text x="47.5" y="393.72" font-size="8" fill="#222" text-anchor="middle" stroke="#222" stroke-width="0.22">1</text>
<text x="66.9" y="395.72" font-size="8" fill="#222" text-anchor="middle" stroke="#222" stroke-width="0.22">0.5</text>
<text x="89" y="398.02" font-size="8" fill="#222" text-anchor="middle" stroke="#222" stroke-width="0.22">0.2</text>
<text x="111.9" y="399.82" font-size="8" fill="#222" text-anchor="middle" stroke="#222" stroke-width="0.22">0.1</text>
<text x="37.5" y="409.5" font-size="11" fill="#111" text-anchor="start" stroke="#111" stroke-width="0.3" textLength="112.5" lengthAdjust="spacingAndGlyphs">Current density (mA g<tspan dy="-3.5" font-size="6.5">-1</tspan><tspan dy="3.5">)</tspan></text>
<text x="166.6" y="342.9" font-size="11" fill="#111" text-anchor="middle" stroke="#111" stroke-width="0.3" textLength="90.5" lengthAdjust="spacingAndGlyphs" transform="rotate(-90 166.6 342.9)">Overpotential (mV)</text>
<rect x="215.8" y="292.4" width="305.1" height="13.6" fill="#faeacb"/>
<circle cx="217.83" cy="300.2" r="2.25" fill="url(#hr)" stroke="#e8202a" stroke-width="0.6"/>
<circle cx="219.87" cy="297.4" r="2.25" fill="url(#hr)" stroke="#e8202a" stroke-width="0.6"/>
<circle cx="221.9" cy="296.9" r="2.25" fill="url(#hr)" stroke="#e8202a" stroke-width="0.6"/>
<circle cx="223.94" cy="296.9" r="2.25" fill="url(#hr)" stroke="#e8202a" stroke-width="0.6"/>
<circle cx="225.97" cy="296.9" r="2.25" fill="url(#hr)" stroke="#e8202a" stroke-width="0.6"/>
<circle cx="228" cy="296.9" r="2.25" fill="url(#hr)" stroke="#e8202a" stroke-width="0.6"/>
<circle cx="230.04" cy="296.9" r="2.25" fill="url(#hr)" stroke="#e8202a" stroke-width="0.6"/>
<circle cx="232.07" cy="296.9" r="2.25" fill="url(#hr)" stroke="#e8202a" stroke-width="0.6"/>
<circle cx="234.11" cy="296.9" r="2.25" fill="url(#hr)" stroke="#e8202a" stroke-width="0.6"/>
<circle cx="236.14" cy="296.9" r="2.25" fill="url(#hr)" stroke="#e8202a" stroke-width="0.6"/>
<circle cx="238.17" cy="296.9" r="2.25" fill="url(#hr)" stroke="#e8202a" stroke-width="0.6"/>
<circle cx="240.21" cy="296.9" r="2.25" fill="url(#hr)" stroke="#e8202a" stroke-width="0.6"/>
<circle cx="242.24" cy="296.9" r="2.25" fill="url(#hr)" stroke="#e8202a" stroke-width="0.6"/>
<circle cx="244.28" cy="296.9" r="2.25" fill="url(#hr)" stroke="#e8202a" stroke-width="0.6"/>
<circle cx="246.31" cy="296.9" r="2.25" fill="url(#hr)" stroke="#e8202a" stroke-width="0.6"/>
<circle cx="248.34" cy="296.9" r="2.25" fill="url(#hr)" stroke="#e8202a" stroke-width="0.6"/>
<circle cx="250.38" cy="296.9" r="2.25" fill="url(#hr)" stroke="#e8202a" stroke-width="0.6"/>
<circle cx="252.41" cy="296.9" r="2.25" fill="url(#hr)" stroke="#e8202a" stroke-width="0.6"/>
<circle cx="254.45" cy="296.9" r="2.25" fill="url(#hr)" stroke="#e8202a" stroke-width="0.6"/>
<circle cx="256.48" cy="296.9" r="2.25" fill="url(#hr)" stroke="#e8202a" stroke-width="0.6"/>
<circle cx="258.51" cy="296.9" r="2.25" fill="url(#hr)" stroke="#e8202a" stroke-width="0.6"/>
<circle cx="260.55" cy="296.9" r="2.25" fill="url(#hr)" stroke="#e8202a" stroke-width="0.6"/>
<circle cx="262.58" cy="296.9" r="2.25" fill="url(#hr)" stroke="#e8202a" stroke-width="0.6"/>
<circle cx="264.62" cy="296.9" r="2.25" fill="url(#hr)" stroke="#e8202a" stroke-width="0.6"/>
<circle cx="266.65" cy="296.9" r="2.25" fill="url(#hr)" stroke="#e8202a" stroke-width="0.6"/>
<circle cx="268.68" cy="296.9" r="2.25" fill="url(#hr)" stroke="#e8202a" stroke-width="0.6"/>
<circle cx="270.72" cy="296.9" r="2.25" fill="url(#hr)" stroke="#e8202a" stroke-width="0.6"/>
<circle cx="272.75" cy="296.9" r="2.25" fill="url(#hr)" stroke="#e8202a" stroke-width="0.6"/>
<circle cx="274.79" cy="296.9" r="2.25" fill="url(#hr)" stroke="#e8202a" stroke-width="0.6"/>
<circle cx="276.82" cy="296.9" r="2.25" fill="url(#hr)" stroke="#e8202a" stroke-width="0.6"/>
<circle cx="278.85" cy="296.9" r="2.25" fill="url(#hr)" stroke="#e8202a" stroke-width="0.6"/>
<circle cx="280.89" cy="296.9" r="2.25" fill="url(#hr)" stroke="#e8202a" stroke-width="0.6"/>
<circle cx="282.92" cy="296.9" r="2.25" fill="url(#hr)" stroke="#e8202a" stroke-width="0.6"/>
<circle cx="284.96" cy="296.9" r="2.25" fill="url(#hr)" stroke="#e8202a" stroke-width="0.6"/>
<circle cx="286.99" cy="296.9" r="2.25" fill="url(#hr)" stroke="#e8202a" stroke-width="0.6"/>
<circle cx="289.02" cy="296.9" r="2.25" fill="url(#hr)" stroke="#e8202a" stroke-width="0.6"/>
<circle cx="291.06" cy="296.9" r="2.25" fill="url(#hr)" stroke="#e8202a" stroke-width="0.6"/>
<circle cx="293.09" cy="296.9" r="2.25" fill="url(#hr)" stroke="#e8202a" stroke-width="0.6"/>
<circle cx="295.13" cy="296.9" r="2.25" fill="url(#hr)" stroke="#e8202a" stroke-width="0.6"/>
<circle cx="297.16" cy="296.9" r="2.25" fill="url(#hr)" stroke="#e8202a" stroke-width="0.6"/>
<circle cx="299.19" cy="296.9" r="2.25" fill="url(#hr)" stroke="#e8202a" stroke-width="0.6"/>
<circle cx="301.23" cy="296.9" r="2.25" fill="url(#hr)" stroke="#e8202a" stroke-width="0.6"/>
<circle cx="303.26" cy="296.9" r="2.25" fill="url(#hr)" stroke="#e8202a" stroke-width="0.6"/>
<circle cx="305.3" cy="296.9" r="2.25" fill="url(#hr)" stroke="#e8202a" stroke-width="0.6"/>
<circle cx="307.33" cy="296.9" r="2.25" fill="url(#hr)" stroke="#e8202a" stroke-width="0.6"/>
<circle cx="309.36" cy="296.9" r="2.25" fill="url(#hr)" stroke="#e8202a" stroke-width="0.6"/>
<circle cx="311.4" cy="296.9" r="2.25" fill="url(#hr)" stroke="#e8202a" stroke-width="0.6"/>
<circle cx="313.43" cy="296.9" r="2.25" fill="url(#hr)" stroke="#e8202a" stroke-width="0.6"/>
<circle cx="315.47" cy="296.9" r="2.25" fill="url(#hr)" stroke="#e8202a" stroke-width="0.6"/>
<circle cx="317.5" cy="296.9" r="2.25" fill="url(#hr)" stroke="#e8202a" stroke-width="0.6"/>
<circle cx="319.53" cy="296.9" r="2.25" fill="url(#hr)" stroke="#e8202a" stroke-width="0.6"/>
<circle cx="321.57" cy="296.9" r="2.25" fill="url(#hr)" stroke="#e8202a" stroke-width="0.6"/>
<circle cx="323.6" cy="296.9" r="2.25" fill="url(#hr)" stroke="#e8202a" stroke-width="0.6"/>
<circle cx="325.64" cy="296.9" r="2.25" fill="url(#hr)" stroke="#e8202a" stroke-width="0.6"/>
<circle cx="327.67" cy="296.9" r="2.25" fill="url(#hr)" stroke="#e8202a" stroke-width="0.6"/>
<circle cx="329.7" cy="296.9" r="2.25" fill="url(#hr)" stroke="#e8202a" stroke-width="0.6"/>
<circle cx="331.74" cy="296.9" r="2.25" fill="url(#hr)" stroke="#e8202a" stroke-width="0.6"/>
<circle cx="333.77" cy="296.9" r="2.25" fill="url(#hr)" stroke="#e8202a" stroke-width="0.6"/>
<circle cx="335.81" cy="296.9" r="2.25" fill="url(#hr)" stroke="#e8202a" stroke-width="0.6"/>
<circle cx="337.84" cy="296.9" r="2.25" fill="url(#hr)" stroke="#e8202a" stroke-width="0.6"/>
<circle cx="339.87" cy="296.9" r="2.25" fill="url(#hr)" stroke="#e8202a" stroke-width="0.6"/>
<circle cx="341.91" cy="296.9" r="2.25" fill="url(#hr)" stroke="#e8202a" stroke-width="0.6"/>
<circle cx="343.94" cy="296.9" r="2.25" fill="url(#hr)" stroke="#e8202a" stroke-width="0.6"/>
<circle cx="345.98" cy="296.9" r="2.25" fill="url(#hr)" stroke="#e8202a" stroke-width="0.6"/>
<circle cx="348.01" cy="296.9" r="2.25" fill="url(#hr)" stroke="#e8202a" stroke-width="0.6"/>
<circle cx="350.04" cy="296.9" r="2.25" fill="url(#hr)" stroke="#e8202a" stroke-width="0.6"/>
<circle cx="352.08" cy="296.9" r="2.25" fill="url(#hr)" stroke="#e8202a" stroke-width="0.6"/>
<circle cx="354.11" cy="296.9" r="2.25" fill="url(#hr)" stroke="#e8202a" stroke-width="0.6"/>
<circle cx="356.15" cy="296.9" r="2.25" fill="url(#hr)" stroke="#e8202a" stroke-width="0.6"/>
<circle cx="358.18" cy="296.9" r="2.25" fill="url(#hr)" stroke="#e8202a" stroke-width="0.6"/>
<circle cx="360.21" cy="296.9" r="2.25" fill="url(#hr)" stroke="#e8202a" stroke-width="0.6"/>
<circle cx="362.25" cy="296.9" r="2.25" fill="url(#hr)" stroke="#e8202a" stroke-width="0.6"/>
<circle cx="364.28" cy="296.9" r="2.25" fill="url(#hr)" stroke="#e8202a" stroke-width="0.6"/>
<circle cx="366.32" cy="296.9" r="2.25" fill="url(#hr)" stroke="#e8202a" stroke-width="0.6"/>
<circle cx="368.35" cy="296.9" r="2.25" fill="url(#hr)" stroke="#e8202a" stroke-width="0.6"/>
<circle cx="370.38" cy="296.9" r="2.25" fill="url(#hr)" stroke="#e8202a" stroke-width="0.6"/>
<circle cx="372.42" cy="296.9" r="2.25" fill="url(#hr)" stroke="#e8202a" stroke-width="0.6"/>
<circle cx="374.45" cy="296.9" r="2.25" fill="url(#hr)" stroke="#e8202a" stroke-width="0.6"/>
<circle cx="376.49" cy="296.9" r="2.25" fill="url(#hr)" stroke="#e8202a" stroke-width="0.6"/>
<circle cx="378.52" cy="296.9" r="2.25" fill="url(#hr)" stroke="#e8202a" stroke-width="0.6"/>
<circle cx="380.55" cy="296.9" r="2.25" fill="url(#hr)" stroke="#e8202a" stroke-width="0.6"/>
<circle cx="382.59" cy="296.9" r="2.25" fill="url(#hr)" stroke="#e8202a" stroke-width="0.6"/>
<circle cx="384.62" cy="296.9" r="2.25" fill="url(#hr)" stroke="#e8202a" stroke-width="0.6"/>
<circle cx="386.66" cy="296.9" r="2.25" fill="url(#hr)" stroke="#e8202a" stroke-width="0.6"/>
<circle cx="388.69" cy="296.9" r="2.25" fill="url(#hr)" stroke="#e8202a" stroke-width="0.6"/>
<circle cx="390.72" cy="296.9" r="2.25" fill="url(#hr)" stroke="#e8202a" stroke-width="0.6"/>
<circle cx="392.76" cy="296.9" r="2.25" fill="url(#hr)" stroke="#e8202a" stroke-width="0.6"/>
<circle cx="394.79" cy="296.9" r="2.25" fill="url(#hr)" stroke="#e8202a" stroke-width="0.6"/>
<circle cx="396.83" cy="296.9" r="2.25" fill="url(#hr)" stroke="#e8202a" stroke-width="0.6"/>
<circle cx="398.86" cy="296.9" r="2.25" fill="url(#hr)" stroke="#e8202a" stroke-width="0.6"/>
<circle cx="400.89" cy="296.9" r="2.25" fill="url(#hr)" stroke="#e8202a" stroke-width="0.6"/>
<circle cx="402.93" cy="296.9" r="2.25" fill="url(#hr)" stroke="#e8202a" stroke-width="0.6"/>
<circle cx="404.96" cy="296.9" r="2.25" fill="url(#hr)" stroke="#e8202a" stroke-width="0.6"/>
<circle cx="407" cy="296.9" r="2.25" fill="url(#hr)" stroke="#e8202a" stroke-width="0.6"/>
<circle cx="409.03" cy="296.9" r="2.25" fill="url(#hr)" stroke="#e8202a" stroke-width="0.6"/>
<circle cx="411.06" cy="296.9" r="2.25" fill="url(#hr)" stroke="#e8202a" stroke-width="0.6"/>
<circle cx="413.1" cy="296.9" r="2.25" fill="url(#hr)" stroke="#e8202a" stroke-width="0.6"/>
<circle cx="415.13" cy="296.9" r="2.25" fill="url(#hr)" stroke="#e8202a" stroke-width="0.6"/>
<circle cx="417.17" cy="296.9" r="2.25" fill="url(#hr)" stroke="#e8202a" stroke-width="0.6"/>
<circle cx="419.2" cy="296.9" r="2.25" fill="url(#hr)" stroke="#e8202a" stroke-width="0.6"/>
<circle cx="421.23" cy="296.9" r="2.25" fill="url(#hr)" stroke="#e8202a" stroke-width="0.6"/>
<circle cx="423.27" cy="296.9" r="2.25" fill="url(#hr)" stroke="#e8202a" stroke-width="0.6"/>
<circle cx="425.3" cy="296.9" r="2.25" fill="url(#hr)" stroke="#e8202a" stroke-width="0.6"/>
<circle cx="427.34" cy="296.9" r="2.25" fill="url(#hr)" stroke="#e8202a" stroke-width="0.6"/>
<circle cx="429.37" cy="296.9" r="2.25" fill="url(#hr)" stroke="#e8202a" stroke-width="0.6"/>
<circle cx="431.4" cy="296.9" r="2.25" fill="url(#hr)" stroke="#e8202a" stroke-width="0.6"/>
<circle cx="433.44" cy="296.9" r="2.25" fill="url(#hr)" stroke="#e8202a" stroke-width="0.6"/>
<circle cx="435.47" cy="296.9" r="2.25" fill="url(#hr)" stroke="#e8202a" stroke-width="0.6"/>
<circle cx="437.51" cy="296.9" r="2.25" fill="url(#hr)" stroke="#e8202a" stroke-width="0.6"/>
<circle cx="439.54" cy="296.9" r="2.25" fill="url(#hr)" stroke="#e8202a" stroke-width="0.6"/>
<circle cx="441.57" cy="296.9" r="2.25" fill="url(#hr)" stroke="#e8202a" stroke-width="0.6"/>
<circle cx="443.61" cy="296.9" r="2.25" fill="url(#hr)" stroke="#e8202a" stroke-width="0.6"/>
<circle cx="445.64" cy="296.9" r="2.25" fill="url(#hr)" stroke="#e8202a" stroke-width="0.6"/>
<circle cx="447.68" cy="296.9" r="2.25" fill="url(#hr)" stroke="#e8202a" stroke-width="0.6"/>
<circle cx="449.71" cy="296.9" r="2.25" fill="url(#hr)" stroke="#e8202a" stroke-width="0.6"/>
<circle cx="451.74" cy="296.9" r="2.25" fill="url(#hr)" stroke="#e8202a" stroke-width="0.6"/>
<circle cx="453.78" cy="296.9" r="2.25" fill="url(#hr)" stroke="#e8202a" stroke-width="0.6"/>
<circle cx="455.81" cy="296.9" r="2.25" fill="url(#hr)" stroke="#e8202a" stroke-width="0.6"/>
<circle cx="457.85" cy="296.9" r="2.25" fill="url(#hr)" stroke="#e8202a" stroke-width="0.6"/>
<circle cx="459.88" cy="296.9" r="2.25" fill="url(#hr)" stroke="#e8202a" stroke-width="0.6"/>
<circle cx="461.91" cy="296.9" r="2.25" fill="url(#hr)" stroke="#e8202a" stroke-width="0.6"/>
<circle cx="463.95" cy="296.9" r="2.25" fill="url(#hr)" stroke="#e8202a" stroke-width="0.6"/>
<circle cx="465.98" cy="296.9" r="2.25" fill="url(#hr)" stroke="#e8202a" stroke-width="0.6"/>
<circle cx="468.02" cy="296.9" r="2.25" fill="url(#hr)" stroke="#e8202a" stroke-width="0.6"/>
<circle cx="470.05" cy="296.9" r="2.25" fill="url(#hr)" stroke="#e8202a" stroke-width="0.6"/>
<circle cx="472.08" cy="296.9" r="2.25" fill="url(#hr)" stroke="#e8202a" stroke-width="0.6"/>
<circle cx="474.12" cy="296.9" r="2.25" fill="url(#hr)" stroke="#e8202a" stroke-width="0.6"/>
<circle cx="476.15" cy="296.9" r="2.25" fill="url(#hr)" stroke="#e8202a" stroke-width="0.6"/>
<circle cx="478.19" cy="296.9" r="2.25" fill="url(#hr)" stroke="#e8202a" stroke-width="0.6"/>
<circle cx="480.22" cy="296.9" r="2.25" fill="url(#hr)" stroke="#e8202a" stroke-width="0.6"/>
<circle cx="482.25" cy="296.9" r="2.25" fill="url(#hr)" stroke="#e8202a" stroke-width="0.6"/>
<circle cx="484.29" cy="296.9" r="2.25" fill="url(#hr)" stroke="#e8202a" stroke-width="0.6"/>
<circle cx="486.32" cy="296.9" r="2.25" fill="url(#hr)" stroke="#e8202a" stroke-width="0.6"/>
<circle cx="488.36" cy="296.9" r="2.25" fill="url(#hr)" stroke="#e8202a" stroke-width="0.6"/>
<circle cx="490.39" cy="296.9" r="2.25" fill="url(#hr)" stroke="#e8202a" stroke-width="0.6"/>
<circle cx="492.42" cy="296.9" r="2.25" fill="url(#hr)" stroke="#e8202a" stroke-width="0.6"/>
<circle cx="494.46" cy="296.9" r="2.25" fill="url(#hr)" stroke="#e8202a" stroke-width="0.6"/>
<circle cx="496.49" cy="296.9" r="2.25" fill="url(#hr)" stroke="#e8202a" stroke-width="0.6"/>
<circle cx="498.53" cy="296.9" r="2.25" fill="url(#hr)" stroke="#e8202a" stroke-width="0.6"/>
<circle cx="500.56" cy="296.9" r="2.25" fill="url(#hr)" stroke="#e8202a" stroke-width="0.6"/>
<circle cx="502.59" cy="296.9" r="2.25" fill="url(#hr)" stroke="#e8202a" stroke-width="0.6"/>
<circle cx="504.63" cy="296.9" r="2.25" fill="url(#hr)" stroke="#e8202a" stroke-width="0.6"/>
<circle cx="506.66" cy="296.9" r="2.25" fill="url(#hr)" stroke="#e8202a" stroke-width="0.6"/>
<circle cx="508.7" cy="296.9" r="2.25" fill="url(#hr)" stroke="#e8202a" stroke-width="0.6"/>
<circle cx="510.73" cy="296.9" r="2.25" fill="url(#hr)" stroke="#e8202a" stroke-width="0.6"/>
<circle cx="512.76" cy="296.9" r="2.25" fill="url(#hr)" stroke="#e8202a" stroke-width="0.6"/>
<circle cx="514.8" cy="296.9" r="2.25" fill="url(#hr)" stroke="#e8202a" stroke-width="0.6"/>
<circle cx="516.83" cy="296.9" r="2.25" fill="url(#hr)" stroke="#e8202a" stroke-width="0.6"/>
<circle cx="518.87" cy="296.9" r="2.25" fill="url(#hr)" stroke="#e8202a" stroke-width="0.6"/>
<circle cx="520.9" cy="296.9" r="2.25" fill="url(#hr)" stroke="#e8202a" stroke-width="0.6"/>
<circle cx="217.83" cy="314.24" r="2.1" fill="url(#gr)"/>
<circle cx="219.87" cy="325.33" r="2.1" fill="url(#gr)"/>
<circle cx="221.9" cy="328.12" r="2.1" fill="url(#gr)"/>
<circle cx="223.94" cy="331.16" r="2.1" fill="url(#gr)"/>
<circle cx="225.97" cy="334.18" r="2.1" fill="url(#gr)"/>
<circle cx="228" cy="335.94" r="2.1" fill="url(#gr)"/>
<circle cx="230.04" cy="337.06" r="2.1" fill="url(#gr)"/>
<circle cx="232.07" cy="338.7" r="2.1" fill="url(#gr)"/>
<circle cx="234.11" cy="338.96" r="2.1" fill="url(#gr)"/>
<circle cx="236.14" cy="339.54" r="2.1" fill="url(#gr)"/>
<circle cx="238.17" cy="340.6" r="2.1" fill="url(#gr)"/>
<circle cx="240.21" cy="340.88" r="2.1" fill="url(#gr)"/>
<circle cx="242.24" cy="341.48" r="2.1" fill="url(#gr)"/>
<circle cx="244.28" cy="341.65" r="2.1" fill="url(#gr)"/>
<circle cx="246.31" cy="342.12" r="2.1" fill="url(#gr)"/>
<circle cx="248.34" cy="342.21" r="2.1" fill="url(#gr)"/>
<circle cx="250.38" cy="342.88" r="2.1" fill="url(#gr)"/>
<circle cx="252.41" cy="343.34" r="2.1" fill="url(#gr)"/>
<circle cx="254.45" cy="343.45" r="2.1" fill="url(#gr)"/>
<circle cx="256.48" cy="343.89" r="2.1" fill="url(#gr)"/>
<circle cx="258.51" cy="344.17" r="2.1" fill="url(#gr)"/>
<circle cx="260.55" cy="344.12" r="2.1" fill="url(#gr)"/>
<circle cx="262.58" cy="344.85" r="2.1" fill="url(#gr)"/>
<circle cx="264.62" cy="345.03" r="2.1" fill="url(#gr)"/>
<circle cx="266.65" cy="345.14" r="2.1" fill="url(#gr)"/>
<circle cx="268.68" cy="345.26" r="2.1" fill="url(#gr)"/>
<circle cx="270.72" cy="346.04" r="2.1" fill="url(#gr)"/>
<circle cx="272.75" cy="346.08" r="2.1" fill="url(#gr)"/>
<circle cx="274.79" cy="346.49" r="2.1" fill="url(#gr)"/>
<circle cx="276.82" cy="346.85" r="2.1" fill="url(#gr)"/>
<circle cx="278.85" cy="347.01" r="2.1" fill="url(#gr)"/>
<circle cx="280.89" cy="347.39" r="2.1" fill="url(#gr)"/>
<circle cx="282.92" cy="347.34" r="2.1" fill="url(#gr)"/>
<circle cx="284.96" cy="347.74" r="2.1" fill="url(#gr)"/>
<circle cx="286.99" cy="347.69" r="2.1" fill="url(#gr)"/>
<circle cx="289.02" cy="348.14" r="2.1" fill="url(#gr)"/>
<circle cx="291.06" cy="348.27" r="2.1" fill="url(#gr)"/>
<circle cx="293.09" cy="347.96" r="2.1" fill="url(#gr)"/>
<circle cx="295.13" cy="347.78" r="2.1" fill="url(#gr)"/>
<circle cx="297.16" cy="347.63" r="2.1" fill="url(#gr)"/>
<circle cx="299.19" cy="347.88" r="2.1" fill="url(#gr)"/>
<circle cx="301.23" cy="348.23" r="2.1" fill="url(#gr)"/>
<circle cx="303.26" cy="349.01" r="2.1" fill="url(#gr)"/>
<circle cx="305.3" cy="349.48" r="2.1" fill="url(#gr)"/>
<circle cx="307.33" cy="350.3" r="2.1" fill="url(#gr)"/>
<circle cx="309.36" cy="350.93" r="2.1" fill="url(#gr)"/>
<circle cx="311.4" cy="351.61" r="2.1" fill="url(#gr)"/>
<circle cx="313.43" cy="352.45" r="2.1" fill="url(#gr)"/>
<circle cx="315.47" cy="352.82" r="2.1" fill="url(#gr)"/>
<circle cx="317.5" cy="353.38" r="2.1" fill="url(#gr)"/>
<circle cx="319.53" cy="353.61" r="2.1" fill="url(#gr)"/>
<circle cx="321.57" cy="354.81" r="2.1" fill="url(#gr)"/>
<circle cx="323.6" cy="355.81" r="2.1" fill="url(#gr)"/>
<circle cx="325.64" cy="355.29" r="2.1" fill="url(#gr)"/>
<circle cx="327.67" cy="354.5" r="2.1" fill="url(#gr)"/>
<circle cx="329.7" cy="354.55" r="2.1" fill="url(#gr)"/>
<circle cx="331.74" cy="355.32" r="2.1" fill="url(#gr)"/>
<circle cx="333.77" cy="354.85" r="2.1" fill="url(#gr)"/>
<circle cx="335.81" cy="354.28" r="2.1" fill="url(#gr)"/>
<circle cx="337.84" cy="353.54" r="2.1" fill="url(#gr)"/>
<circle cx="339.87" cy="354.43" r="2.1" fill="url(#gr)"/>
<circle cx="341.91" cy="354.93" r="2.1" fill="url(#gr)"/>
<circle cx="343.94" cy="355.95" r="2.1" fill="url(#gr)"/>
<circle cx="345.98" cy="356.44" r="2.1" fill="url(#gr)"/>
<circle cx="348.01" cy="356.13" r="2.1" fill="url(#gr)"/>
<circle cx="350.04" cy="355.86" r="2.1" fill="url(#gr)"/>
<circle cx="352.08" cy="356.19" r="2.1" fill="url(#gr)"/>
<circle cx="354.11" cy="356.13" r="2.1" fill="url(#gr)"/>
<circle cx="356.15" cy="355.45" r="2.1" fill="url(#gr)"/>
<circle cx="358.18" cy="355.96" r="2.1" fill="url(#gr)"/>
<circle cx="360.21" cy="355.81" r="2.1" fill="url(#gr)"/>
<circle cx="362.25" cy="355.74" r="2.1" fill="url(#gr)"/>
<circle cx="364.28" cy="355.91" r="2.1" fill="url(#gr)"/>
<circle cx="366.32" cy="356.28" r="2.1" fill="url(#gr)"/>
<circle cx="368.35" cy="356.42" r="2.1" fill="url(#gr)"/>
<circle cx="370.38" cy="355.97" r="2.1" fill="url(#gr)"/>
<circle cx="372.42" cy="356.35" r="2.1" fill="url(#gr)"/>
<circle cx="374.45" cy="356.05" r="2.1" fill="url(#gr)"/>
<circle cx="376.49" cy="356.49" r="2.1" fill="url(#gr)"/>
<circle cx="378.52" cy="356.3" r="2.1" fill="url(#gr)"/>
<circle cx="380.55" cy="356.85" r="2.1" fill="url(#gr)"/>
<circle cx="382.59" cy="357.12" r="2.1" fill="url(#gr)"/>
<circle cx="384.62" cy="357.05" r="2.1" fill="url(#gr)"/>
<circle cx="386.66" cy="357.57" r="2.1" fill="url(#gr)"/>
<circle cx="388.69" cy="357.37" r="2.1" fill="url(#gr)"/>
<circle cx="390.72" cy="357.45" r="2.1" fill="url(#gr)"/>
<circle cx="392.76" cy="357.7" r="2.1" fill="url(#gr)"/>
<circle cx="394.79" cy="357.3" r="2.1" fill="url(#gr)"/>
<circle cx="396.83" cy="357.34" r="2.1" fill="url(#gr)"/>
<circle cx="398.86" cy="357.4" r="2.1" fill="url(#gr)"/>
<circle cx="400.89" cy="357.47" r="2.1" fill="url(#gr)"/>
<circle cx="402.93" cy="357.24" r="2.1" fill="url(#gr)"/>
<circle cx="404.96" cy="357.21" r="2.1" fill="url(#gr)"/>
<circle cx="407" cy="357.75" r="2.1" fill="url(#gr)"/>
<circle cx="409.03" cy="357.46" r="2.1" fill="url(#gr)"/>
<circle cx="411.06" cy="357.89" r="2.1" fill="url(#gr)"/>
<circle cx="413.1" cy="357.9" r="2.1" fill="url(#gr)"/>
<circle cx="415.13" cy="357.63" r="2.1" fill="url(#gr)"/>
<circle cx="417.17" cy="357.58" r="2.1" fill="url(#gr)"/>
<circle cx="419.2" cy="357.51" r="2.1" fill="url(#gr)"/>
<circle cx="421.23" cy="357.49" r="2.1" fill="url(#gr)"/>
<circle cx="423.27" cy="357.36" r="2.1" fill="url(#gr)"/>
<circle cx="425.3" cy="357.24" r="2.1" fill="url(#gr)"/>
<circle cx="427.34" cy="357.17" r="2.1" fill="url(#gr)"/>
<circle cx="429.37" cy="357.26" r="2.1" fill="url(#gr)"/>
<circle cx="431.4" cy="356.9" r="2.1" fill="url(#gr)"/>
<circle cx="433.44" cy="356.76" r="2.1" fill="url(#gr)"/>
<circle cx="435.47" cy="356.83" r="2.1" fill="url(#gr)"/>
<circle cx="437.51" cy="356.44" r="2.1" fill="url(#gr)"/>
<circle cx="439.54" cy="356.38" r="2.1" fill="url(#gr)"/>
<circle cx="441.57" cy="356.79" r="2.1" fill="url(#gr)"/>
<circle cx="443.61" cy="356.51" r="2.1" fill="url(#gr)"/>
<circle cx="445.64" cy="356.53" r="2.1" fill="url(#gr)"/>
<circle cx="447.68" cy="356.21" r="2.1" fill="url(#gr)"/>
<circle cx="449.71" cy="356.45" r="2.1" fill="url(#gr)"/>
<circle cx="451.74" cy="356.55" r="2.1" fill="url(#gr)"/>
<circle cx="453.78" cy="356.21" r="2.1" fill="url(#gr)"/>
<circle cx="455.81" cy="356.91" r="2.1" fill="url(#gr)"/>
<circle cx="457.85" cy="357.26" r="2.1" fill="url(#gr)"/>
<circle cx="459.88" cy="357.26" r="2.1" fill="url(#gr)"/>
<circle cx="461.91" cy="357.94" r="2.1" fill="url(#gr)"/>
<circle cx="463.95" cy="358.18" r="2.1" fill="url(#gr)"/>
<circle cx="465.98" cy="358.37" r="2.1" fill="url(#gr)"/>
<circle cx="468.02" cy="358.23" r="2.1" fill="url(#gr)"/>
<circle cx="470.05" cy="358.5" r="2.1" fill="url(#gr)"/>
<circle cx="472.08" cy="358.58" r="2.1" fill="url(#gr)"/>
<circle cx="474.12" cy="358.2" r="2.1" fill="url(#gr)"/>
<circle cx="476.15" cy="358.29" r="2.1" fill="url(#gr)"/>
<circle cx="478.19" cy="358.71" r="2.1" fill="url(#gr)"/>
<circle cx="480.22" cy="358.94" r="2.1" fill="url(#gr)"/>
<circle cx="482.25" cy="358.58" r="2.1" fill="url(#gr)"/>
<circle cx="484.29" cy="358.76" r="2.1" fill="url(#gr)"/>
<circle cx="486.32" cy="358.9" r="2.1" fill="url(#gr)"/>
<circle cx="488.36" cy="358.79" r="2.1" fill="url(#gr)"/>
<circle cx="490.39" cy="358.93" r="2.1" fill="url(#gr)"/>
<circle cx="492.42" cy="359" r="2.1" fill="url(#gr)"/>
<circle cx="494.46" cy="359.15" r="2.1" fill="url(#gr)"/>
<circle cx="496.49" cy="359.39" r="2.1" fill="url(#gr)"/>
<circle cx="498.53" cy="359.32" r="2.1" fill="url(#gr)"/>
<circle cx="500.56" cy="359.48" r="2.1" fill="url(#gr)"/>
<circle cx="502.59" cy="359.82" r="2.1" fill="url(#gr)"/>
<circle cx="504.63" cy="359.48" r="2.1" fill="url(#gr)"/>
<circle cx="506.66" cy="359.92" r="2.1" fill="url(#gr)"/>
<circle cx="508.7" cy="360.12" r="2.1" fill="url(#gr)"/>
<circle cx="510.73" cy="359.98" r="2.1" fill="url(#gr)"/>
<circle cx="512.76" cy="360.03" r="2.1" fill="url(#gr)"/>
<circle cx="514.8" cy="360.56" r="2.1" fill="url(#gr)"/>
<circle cx="516.83" cy="360.39" r="2.1" fill="url(#gr)"/>
<circle cx="518.87" cy="360.54" r="2.1" fill="url(#gr)"/>
<circle cx="520.9" cy="360.86" r="2.1" fill="url(#gr)"/>
<rect x="215.8" y="292.4" width="305.1" height="95.7" fill="none" stroke="#333" stroke-width="1.1"/>
<circle cx="478.2" cy="313.5" r="2.1" fill="url(#hr)" stroke="#e8202a" stroke-width="0.6"/>
<circle cx="486.3" cy="313.5" r="2.4" fill="url(#gr)"/>
<text x="491" y="315.6" font-size="6.1" fill="#222" text-anchor="start" stroke="#222" stroke-width="0.18" textLength="27.8" lengthAdjust="spacingAndGlyphs">ZIF-67@CL</text>
<text x="218.6" y="384.3" font-size="5.9" fill="#222" text-anchor="start" stroke="#222" stroke-width="0.18" textLength="8.2" lengthAdjust="spacingAndGlyphs">2 C</text>
<text x="213.6" y="308.28" font-size="7.6" fill="#222" text-anchor="end" stroke="#222" stroke-width="0.22">1200</text>
<line x1="215.8" y1="305.7" x2="217.8" y2="305.7" stroke="#333" stroke-width="0.8"/>
<text x="213.6" y="328.68" font-size="7.6" fill="#222" text-anchor="end" stroke="#222" stroke-width="0.22">900</text>
<line x1="215.8" y1="326.1" x2="217.8" y2="326.1" stroke="#333" stroke-width="0.8"/>
<text x="213.6" y="349.08" font-size="7.6" fill="#222" text-anchor="end" stroke="#222" stroke-width="0.22">600</text>
<line x1="215.8" y1="346.5" x2="217.8" y2="346.5" stroke="#333" stroke-width="0.8"/>
<text x="213.6" y="369.48" font-size="7.6" fill="#222" text-anchor="end" stroke="#222" stroke-width="0.22">300</text>
<line x1="215.8" y1="366.9" x2="217.8" y2="366.9" stroke="#333" stroke-width="0.8"/>
<text x="213.6" y="389.88" font-size="7.6" fill="#222" text-anchor="end" stroke="#222" stroke-width="0.22">0</text>
<line x1="215.8" y1="387.3" x2="217.8" y2="387.3" stroke="#333" stroke-width="0.8"/>
<text x="215.8" y="395.88" font-size="7.6" fill="#222" text-anchor="middle" stroke="#222" stroke-width="0.22">0</text>
<line x1="215.8" y1="388.1" x2="215.8" y2="386.1" stroke="#333" stroke-width="0.8"/>
<text x="317.5" y="395.88" font-size="7.6" fill="#222" text-anchor="middle" stroke="#222" stroke-width="0.22">50</text>
<line x1="317.5" y1="388.1" x2="317.5" y2="386.1" stroke="#333" stroke-width="0.8"/>
<text x="419.2" y="395.88" font-size="7.6" fill="#222" text-anchor="middle" stroke="#222" stroke-width="0.22">100</text>
<line x1="419.2" y1="388.1" x2="419.2" y2="386.1" stroke="#333" stroke-width="0.8"/>
<text x="520.9" y="395.88" font-size="7.6" fill="#222" text-anchor="middle" stroke="#222" stroke-width="0.22">150</text>
<line x1="520.9" y1="388.1" x2="520.9" y2="386.1" stroke="#333" stroke-width="0.8"/>
<text x="529.3" y="299.78" font-size="7.6" fill="#222" text-anchor="middle" stroke="#222" stroke-width="0.22" textLength="11.2" lengthAdjust="spacingAndGlyphs">100</text>
<text x="527.6" y="307.98" font-size="7.6" fill="#222" text-anchor="middle" stroke="#222" stroke-width="0.22" textLength="7.6" lengthAdjust="spacingAndGlyphs">60</text>
<text x="196.4" y="346.5" font-size="10.5" fill="#111" text-anchor="middle" stroke="#111" stroke-width="0.3" textLength="122.5" lengthAdjust="spacingAndGlyphs" transform="rotate(-90 196.4 346.5)">Specific capacity (mAh g<tspan dy="-3.5" font-size="6.5">-1</tspan><tspan dy="3.5">)</tspan></text>
<text x="545.6" y="349.7" font-size="10.8" fill="#111" text-anchor="middle" stroke="#111" stroke-width="0.3" textLength="116.7" lengthAdjust="spacingAndGlyphs" transform="rotate(-90 545.6 349.7)">Coulombic efficiency (%)</text>
<text x="338.2" y="410.5" font-size="11.5" fill="#111" text-anchor="start" stroke="#111" stroke-width="0.3" textLength="63.6" lengthAdjust="spacingAndGlyphs">Cycle number</text>
</svg></body></html>
